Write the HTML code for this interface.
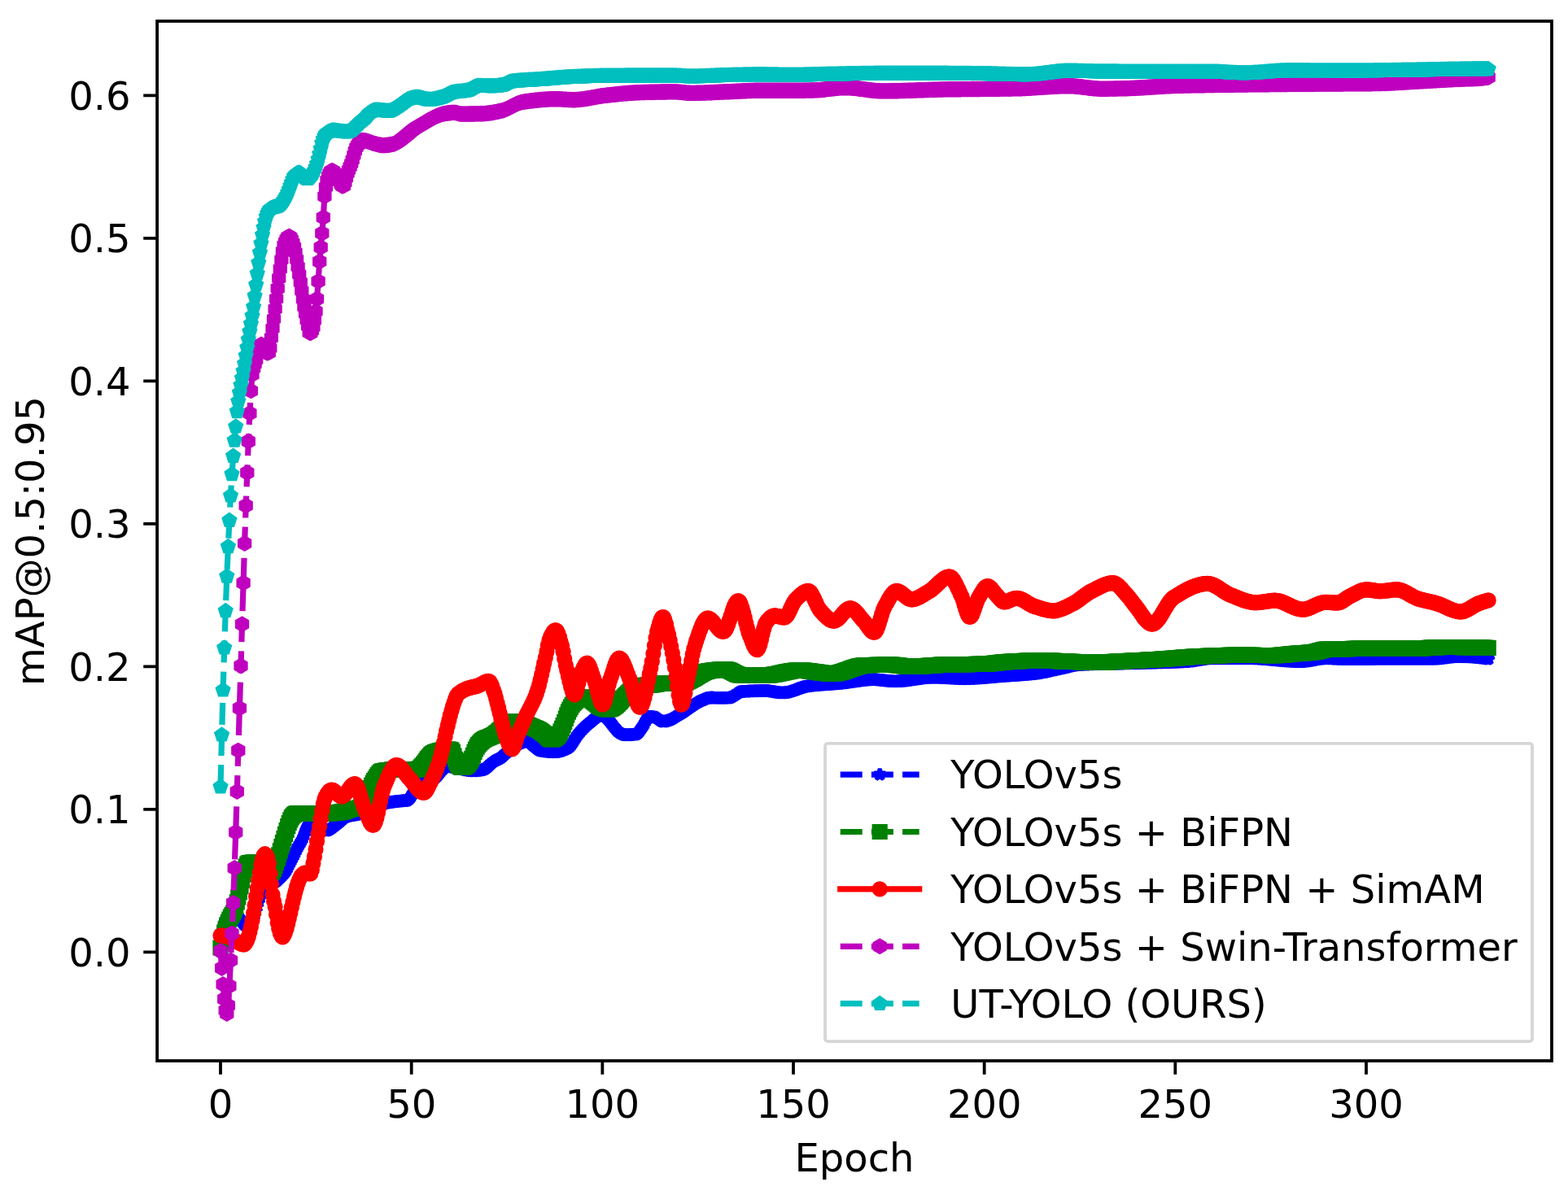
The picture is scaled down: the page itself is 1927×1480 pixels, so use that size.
<!DOCTYPE html><html><head><meta charset="utf-8"><title>mAP@0.5:0.95 vs Epoch</title>
<style>html,body{margin:0;padding:0;background:#fff;}svg{display:block;}text{font-family:'DejaVu Sans', 'Liberation Sans', sans-serif;fill:#000;}</style></head><body>
<svg width="1927" height="1480" viewBox="0 0 1927 1480">
<defs>
<marker id="mb" markerUnits="userSpaceOnUse" markerWidth="40" markerHeight="40" viewBox="-20 -20 40 40" refX="0" refY="0" orient="0" overflow="visible"><path d="M0.00,-7.20 L-1.62,-2.22 L-6.85,-2.22 L-2.62,0.85 L-4.23,5.82 L-0.00,2.75 L4.23,5.82 L2.62,0.85 L6.85,-2.22 L1.62,-2.22Z" fill="#0000ff" stroke="#0000ff" stroke-width="4.8" stroke-linejoin="bevel"/></marker>
<marker id="mg" markerUnits="userSpaceOnUse" markerWidth="40" markerHeight="40" viewBox="-20 -20 40 40" refX="0" refY="0" orient="0" overflow="visible"><path d="M-7.20,-7.20 H7.20 V7.20 H-7.20 Z" fill="#008000" stroke="#008000" stroke-width="4.8" stroke-linejoin="miter"/></marker>
<marker id="mr" markerUnits="userSpaceOnUse" markerWidth="40" markerHeight="40" viewBox="-20 -20 40 40" refX="0" refY="0" orient="0" overflow="visible"><circle r="9.60" fill="#ff0000"/></marker>
<marker id="mm" markerUnits="userSpaceOnUse" markerWidth="40" markerHeight="40" viewBox="-20 -20 40 40" refX="0" refY="0" orient="0" overflow="visible"><path d="M0.00,-7.20 L-6.24,-3.60 L-6.24,3.60 L-0.00,7.20 L6.24,3.60 L6.24,-3.60Z" fill="#bf00bf" stroke="#bf00bf" stroke-width="4.8" stroke-linejoin="miter"/></marker>
<marker id="mc" markerUnits="userSpaceOnUse" markerWidth="40" markerHeight="40" viewBox="-20 -20 40 40" refX="0" refY="0" orient="0" overflow="visible"><path d="M0.00,-7.20 L-6.85,-2.22 L-4.23,5.82 L4.23,5.82 L6.85,-2.22Z" fill="#00bfbf" stroke="#00bfbf" stroke-width="4.8" stroke-linejoin="miter"/></marker>
<clipPath id="ax"><rect x="193.1" y="26.0" width="1713.9" height="1278.0"/></clipPath>
</defs>
<rect x="0" y="0" width="1927" height="1480" fill="#fff"/>
<g clip-path="url(#ax)">
<polyline points="271.0,1170.0 272.6,1153.4 274.1,1143.1 275.7,1136.1 277.2,1131.5 278.8,1128.0 280.4,1125.5 281.9,1123.3 283.5,1121.7 285.0,1121.0 286.6,1121.5 288.2,1122.5 289.7,1123.8 291.3,1125.2 292.8,1127.0 294.4,1129.0 296.0,1130.9 297.5,1133.0 299.1,1135.2 300.6,1137.1 302.2,1138.1 303.8,1138.5 305.3,1138.9 306.9,1139.0 308.4,1137.6 310.0,1133.8 311.6,1129.2 313.1,1124.7 314.7,1119.4 316.2,1113.8 317.8,1108.6 319.4,1104.0 320.9,1099.5 322.5,1095.9 324.0,1093.6 325.6,1091.7 327.2,1090.1 328.7,1088.9 330.3,1087.8 331.8,1087.1 333.4,1086.5 335.0,1086.0 336.5,1085.3 338.1,1084.3 339.6,1083.1 341.2,1081.7 342.7,1080.2 344.3,1078.8 345.9,1077.2 347.4,1075.5 349.0,1073.8 350.5,1072.0 352.1,1069.8 353.7,1066.9 355.2,1063.6 356.8,1060.5 358.3,1057.5 359.9,1054.5 361.5,1051.3 363.0,1048.1 364.6,1044.8 366.1,1041.7 367.7,1038.9 369.3,1036.2 370.8,1033.5 372.4,1030.5 373.9,1026.7 375.5,1022.2 377.1,1018.3 378.6,1015.3 380.2,1012.6 381.7,1010.6 383.3,1010.0 384.9,1010.3 386.4,1010.8 388.0,1011.6 389.5,1012.5 391.1,1013.5 392.7,1014.5 394.2,1016.0 395.8,1017.8 397.3,1019.5 398.9,1020.7 400.5,1021.0 402.0,1020.7 403.6,1020.2 405.1,1019.4 406.7,1018.4 408.3,1017.2 409.8,1016.0 411.4,1014.8 412.9,1013.5 414.5,1012.4 416.1,1011.2 417.6,1009.8 419.2,1008.3 420.7,1006.9 422.3,1005.5 423.9,1004.5 425.4,1003.9 427.0,1003.4 428.5,1003.1 430.1,1002.8 431.7,1002.5 433.2,1002.3 434.8,1002.0 436.3,1001.8 437.9,1001.5 439.5,1001.1 441.0,1000.7 442.6,1000.2 444.1,999.6 445.7,998.9 447.3,998.1 448.8,997.4 450.4,996.6 451.9,995.8 453.5,995.0 455.1,994.2 456.6,993.4 458.2,992.7 459.7,992.1 461.3,991.5 462.9,990.9 464.4,990.3 466.0,989.7 467.5,989.1 469.1,988.6 470.6,988.1 472.2,987.6 473.8,987.3 475.3,986.9 476.9,986.7 478.4,986.4 480.0,986.2 481.6,986.0 483.1,985.8 484.7,985.6 486.2,985.4 487.8,985.2 489.4,985.1 490.9,984.9 492.5,984.8 494.0,984.6 495.6,984.5 497.2,984.4 498.7,984.2 500.3,983.9 501.8,983.1 503.4,981.5 505.0,979.5 506.5,977.0 508.1,974.4 509.6,971.8 511.2,969.3 512.8,967.2 514.3,965.5 515.9,964.4 517.4,963.6 519.0,962.8 520.6,962.2 522.1,961.6 523.7,961.0 525.2,960.5 526.8,960.0 528.4,959.4 529.9,958.8 531.5,958.1 533.0,957.3 534.6,956.2 536.2,954.8 537.7,953.1 539.3,951.2 540.8,949.2 542.4,947.3 544.0,945.6 545.5,944.1 547.1,942.9 548.6,942.3 550.2,942.2 551.8,942.3 553.3,942.5 554.9,942.8 556.4,943.1 558.0,943.4 559.6,943.8 561.1,944.2 562.7,944.5 564.2,944.9 565.8,945.1 567.4,945.4 568.9,945.8 570.5,946.1 572.0,946.5 573.6,946.8 575.2,947.1 576.7,947.3 578.3,947.5 579.8,947.6 581.4,947.7 583.0,947.7 584.5,947.6 586.1,947.4 587.6,947.2 589.2,947.0 590.8,946.7 592.3,946.4 593.9,946.0 595.4,945.5 597.0,944.5 598.5,943.2 600.1,941.7 601.7,940.2 603.2,938.7 604.8,937.3 606.3,936.1 607.9,935.3 609.5,934.5 611.0,933.8 612.6,933.1 614.1,932.2 615.7,931.2 617.3,929.9 618.8,928.4 620.4,926.9 621.9,925.5 623.5,924.2 625.1,922.9 626.6,921.6 628.2,920.3 629.7,919.0 631.3,917.9 632.9,916.8 634.4,915.8 636.0,915.0 637.5,914.3 639.1,913.6 640.7,912.9 642.2,912.2 643.8,911.7 645.3,911.3 646.9,911.1 648.5,911.0 650.0,911.7 651.6,912.9 653.1,914.4 654.7,915.9 656.3,917.2 657.8,918.4 659.4,919.7 660.9,920.9 662.5,922.0 664.1,922.7 665.6,923.0 667.2,923.3 668.7,923.5 670.3,923.7 671.9,923.9 673.4,924.1 675.0,924.2 676.5,924.4 678.1,924.4 679.7,924.5 681.2,924.5 682.8,924.4 684.3,924.3 685.9,924.0 687.5,923.6 689.0,923.2 690.6,922.7 692.1,922.1 693.7,921.4 695.3,920.7 696.8,920.0 698.4,919.2 699.9,917.9 701.5,916.2 703.1,914.1 704.6,911.8 706.2,909.3 707.7,906.8 709.3,904.4 710.9,902.2 712.4,900.3 714.0,898.5 715.5,896.9 717.1,895.2 718.7,893.6 720.2,892.1 721.8,890.7 723.3,889.3 724.9,888.1 726.4,886.8 728.0,885.5 729.6,884.2 731.1,882.9 732.7,881.7 734.2,880.6 735.8,879.7 737.4,879.1 738.9,878.7 740.5,878.6 742.0,879.3 743.6,880.6 745.2,882.1 746.7,883.7 748.3,885.4 749.8,887.3 751.4,889.4 753.0,891.5 754.5,893.5 756.1,895.2 757.6,897.1 759.2,898.8 760.8,900.2 762.3,901.2 763.9,902.0 765.4,902.7 767.0,903.2 768.6,903.5 770.1,903.5 771.7,903.5 773.2,903.4 774.8,903.3 776.4,903.2 777.9,903.1 779.5,902.9 781.0,902.8 782.6,902.3 784.2,901.0 785.7,899.1 787.3,896.9 788.8,894.6 790.4,892.4 792.0,889.8 793.5,886.7 795.1,883.9 796.6,881.8 798.2,881.0 799.8,881.1 801.3,881.2 802.9,881.4 804.4,881.7 806.0,882.0 807.6,882.6 809.1,883.7 810.7,884.9 812.2,886.0 813.8,886.7 815.4,886.9 816.9,886.7 818.5,886.4 820.0,886.0 821.6,885.5 823.2,884.9 824.7,884.3 826.3,883.4 827.8,882.5 829.4,881.5 831.0,880.5 832.5,879.5 834.1,878.6 835.6,877.7 837.2,876.8 838.8,875.8 840.3,874.8 841.9,873.7 843.4,872.6 845.0,871.5 846.6,870.4 848.1,869.3 849.7,868.3 851.2,867.2 852.8,866.2 854.4,865.1 855.9,864.1 857.5,863.2 859.0,862.4 860.6,861.7 862.1,861.1 863.7,860.4 865.3,859.7 866.8,859.1 868.4,858.5 869.9,858.1 871.5,857.9 873.1,857.8 874.6,857.8 876.2,857.8 877.7,857.9 879.3,857.9 880.9,857.9 882.4,858.0 884.0,858.0 885.5,858.0 887.1,858.0 888.7,858.0 890.2,858.0 891.8,858.0 893.3,858.0 894.9,858.0 896.5,857.8 898.0,857.3 899.6,856.6 901.1,855.6 902.7,854.6 904.3,853.5 905.8,852.4 907.4,851.5 908.9,850.8 910.5,850.4 912.1,850.2 913.6,850.1 915.2,850.1 916.7,850.0 918.3,849.9 919.9,849.8 921.4,849.7 923.0,849.7 924.5,849.6 926.1,849.6 927.7,849.5 929.2,849.5 930.8,849.4 932.3,849.4 933.9,849.4 935.5,849.3 937.0,849.3 938.6,849.3 940.1,849.3 941.7,849.3 943.3,849.3 944.8,849.5 946.4,849.6 947.9,849.9 949.5,850.1 951.1,850.4 952.6,850.7 954.2,850.9 955.7,851.2 957.3,851.4 958.9,851.6 960.4,851.7 962.0,851.7 963.5,851.6 965.1,851.5 966.7,851.3 968.2,850.9 969.8,850.6 971.3,850.1 972.9,849.6 974.5,849.1 976.0,848.6 977.6,848.0 979.1,847.4 980.7,846.8 982.3,846.3 983.8,845.7 985.4,845.2 986.9,844.8 988.5,844.3 990.0,844.0 991.6,843.7 993.2,843.5 994.7,843.3 996.3,843.1 997.8,842.9 999.4,842.8 1001.0,842.6 1002.5,842.5 1004.1,842.3 1005.6,842.2 1007.2,842.1 1008.8,841.9 1010.3,841.8 1011.9,841.7 1013.4,841.6 1015.0,841.5 1016.6,841.4 1018.1,841.3 1019.7,841.2 1021.2,841.1 1022.8,840.9 1024.4,840.8 1025.9,840.7 1027.5,840.6 1029.0,840.4 1030.6,840.3 1032.2,840.2 1033.7,840.0 1035.3,839.8 1036.8,839.7 1038.4,839.5 1040.0,839.2 1041.5,839.0 1043.1,838.8 1044.6,838.6 1046.2,838.3 1047.8,838.1 1049.3,837.9 1050.9,837.6 1052.4,837.4 1054.0,837.2 1055.6,837.0 1057.1,836.7 1058.7,836.5 1060.2,836.4 1061.8,836.2 1063.4,836.0 1064.9,835.9 1066.5,835.8 1068.0,835.7 1069.6,835.6 1071.2,835.5 1072.7,835.5 1074.3,835.5 1075.8,835.5 1077.4,835.6 1079.0,835.7 1080.5,835.9 1082.1,836.0 1083.6,836.2 1085.2,836.4 1086.8,836.6 1088.3,836.7 1089.9,836.9 1091.4,837.1 1093.0,837.2 1094.6,837.4 1096.1,837.5 1097.7,837.6 1099.2,837.6 1100.8,837.6 1102.4,837.6 1103.9,837.5 1105.5,837.4 1107.0,837.3 1108.6,837.2 1110.2,837.0 1111.7,836.9 1113.3,836.7 1114.8,836.5 1116.4,836.3 1117.9,836.1 1119.5,835.8 1121.1,835.6 1122.6,835.4 1124.2,835.1 1125.7,834.9 1127.3,834.7 1128.9,834.4 1130.4,834.2 1132.0,834.0 1133.5,833.8 1135.1,833.6 1136.7,833.5 1138.2,833.3 1139.8,833.2 1141.3,833.1 1142.9,833.0 1144.5,832.9 1146.0,832.9 1147.6,832.9 1149.1,832.9 1150.7,832.9 1152.3,833.0 1153.8,833.0 1155.4,833.1 1156.9,833.2 1158.5,833.2 1160.1,833.3 1161.6,833.4 1163.2,833.5 1164.7,833.6 1166.3,833.7 1167.9,833.7 1169.4,833.8 1171.0,833.9 1172.5,834.0 1174.1,834.1 1175.7,834.2 1177.2,834.2 1178.8,834.3 1180.3,834.3 1181.9,834.4 1183.5,834.4 1185.0,834.4 1186.6,834.4 1188.1,834.4 1189.7,834.4 1191.3,834.3 1192.8,834.3 1194.4,834.2 1195.9,834.1 1197.5,834.1 1199.1,834.0 1200.6,833.9 1202.2,833.8 1203.7,833.7 1205.3,833.6 1206.9,833.4 1208.4,833.3 1210.0,833.2 1211.5,833.1 1213.1,832.9 1214.7,832.8 1216.2,832.7 1217.8,832.5 1219.3,832.4 1220.9,832.2 1222.5,832.1 1224.0,832.0 1225.6,831.8 1227.1,831.7 1228.7,831.6 1230.3,831.5 1231.8,831.3 1233.4,831.2 1234.9,831.1 1236.5,831.0 1238.1,830.9 1239.6,830.8 1241.2,830.7 1242.7,830.6 1244.3,830.5 1245.8,830.4 1247.4,830.3 1249.0,830.2 1250.5,830.1 1252.1,829.9 1253.6,829.8 1255.2,829.7 1256.8,829.6 1258.3,829.5 1259.9,829.3 1261.4,829.2 1263.0,829.1 1264.6,828.9 1266.1,828.8 1267.7,828.6 1269.2,828.4 1270.8,828.3 1272.4,828.1 1273.9,827.9 1275.5,827.6 1277.0,827.4 1278.6,827.1 1280.2,826.8 1281.7,826.5 1283.3,826.2 1284.8,825.9 1286.4,825.5 1288.0,825.2 1289.5,824.8 1291.1,824.5 1292.6,824.1 1294.2,823.8 1295.8,823.4 1297.3,823.1 1298.9,822.7 1300.4,822.4 1302.0,822.1 1303.6,821.8 1305.1,821.4 1306.7,821.0 1308.2,820.7 1309.8,820.3 1311.4,819.9 1312.9,819.5 1314.5,819.1 1316.0,818.8 1317.6,818.4 1319.2,818.1 1320.7,817.9 1322.3,817.6 1323.8,817.4 1325.4,817.3 1327.0,817.2 1328.5,817.2 1330.1,817.1 1331.6,817.0 1333.2,816.9 1334.8,816.9 1336.3,816.8 1337.9,816.8 1339.4,816.7 1341.0,816.7 1342.6,816.6 1344.1,816.6 1345.7,816.5 1347.2,816.5 1348.8,816.5 1350.4,816.4 1351.9,816.4 1353.5,816.4 1355.0,816.3 1356.6,816.3 1358.2,816.3 1359.7,816.2 1361.3,816.2 1362.8,816.2 1364.4,816.2 1366.0,816.1 1367.5,816.1 1369.1,816.1 1370.6,816.0 1372.2,816.0 1373.8,816.0 1375.3,815.9 1376.9,815.9 1378.4,815.8 1380.0,815.8 1381.5,815.8 1383.1,815.7 1384.7,815.7 1386.2,815.6 1387.8,815.6 1389.3,815.5 1390.9,815.5 1392.5,815.5 1394.0,815.4 1395.6,815.4 1397.1,815.4 1398.7,815.3 1400.3,815.3 1401.8,815.2 1403.4,815.2 1404.9,815.2 1406.5,815.1 1408.1,815.1 1409.6,815.1 1411.2,815.0 1412.7,815.0 1414.3,815.0 1415.9,814.9 1417.4,814.9 1419.0,814.8 1420.5,814.8 1422.1,814.8 1423.7,814.7 1425.2,814.7 1426.8,814.6 1428.3,814.6 1429.9,814.5 1431.5,814.5 1433.0,814.4 1434.6,814.4 1436.1,814.3 1437.7,814.3 1439.3,814.2 1440.8,814.2 1442.4,814.1 1443.9,814.0 1445.5,814.0 1447.1,813.9 1448.6,813.9 1450.2,813.8 1451.7,813.7 1453.3,813.6 1454.9,813.6 1456.4,813.5 1458.0,813.4 1459.5,813.3 1461.1,813.1 1462.7,813.0 1464.2,812.8 1465.8,812.5 1467.3,812.3 1468.9,812.0 1470.5,811.8 1472.0,811.5 1473.6,811.2 1475.1,810.9 1476.7,810.7 1478.3,810.4 1479.8,810.2 1481.4,810.0 1482.9,809.8 1484.5,809.7 1486.1,809.6 1487.6,809.5 1489.2,809.5 1490.7,809.5 1492.3,809.5 1493.9,809.5 1495.4,809.5 1497.0,809.5 1498.5,809.5 1500.1,809.5 1501.7,809.5 1503.2,809.5 1504.8,809.5 1506.3,809.5 1507.9,809.5 1509.4,809.5 1511.0,809.5 1512.6,809.5 1514.1,809.5 1515.7,809.5 1517.2,809.5 1518.8,809.5 1520.4,809.5 1521.9,809.5 1523.5,809.5 1525.0,809.5 1526.6,809.5 1528.2,809.5 1529.7,809.5 1531.3,809.5 1532.8,809.5 1534.4,809.5 1536.0,809.5 1537.5,809.5 1539.1,809.5 1540.6,809.6 1542.2,809.6 1543.8,809.7 1545.3,809.8 1546.9,809.8 1548.4,809.9 1550.0,810.0 1551.6,810.1 1553.1,810.2 1554.7,810.4 1556.2,810.5 1557.8,810.6 1559.4,810.8 1560.9,810.9 1562.5,811.0 1564.0,811.2 1565.6,811.3 1567.2,811.5 1568.7,811.6 1570.3,811.8 1571.8,811.9 1573.4,812.1 1575.0,812.2 1576.5,812.3 1578.1,812.5 1579.6,812.6 1581.2,812.7 1582.8,812.8 1584.3,812.9 1585.9,813.0 1587.4,813.1 1589.0,813.2 1590.6,813.2 1592.1,813.3 1593.7,813.3 1595.2,813.4 1596.8,813.4 1598.4,813.4 1599.9,813.4 1601.5,813.3 1603.0,813.1 1604.6,812.9 1606.2,812.7 1607.7,812.5 1609.3,812.2 1610.8,812.0 1612.4,811.7 1614.0,811.4 1615.5,811.1 1617.1,810.8 1618.6,810.5 1620.2,810.3 1621.8,810.1 1623.3,809.9 1624.9,809.7 1626.4,809.6 1628.0,809.5 1629.6,809.5 1631.1,809.5 1632.7,809.6 1634.2,809.6 1635.8,809.7 1637.3,809.7 1638.9,809.8 1640.5,809.9 1642.0,810.0 1643.6,810.0 1645.1,810.1 1646.7,810.2 1648.3,810.2 1649.8,810.3 1651.4,810.3 1652.9,810.3 1654.5,810.3 1656.1,810.3 1657.6,810.3 1659.2,810.3 1660.7,810.3 1662.3,810.3 1663.9,810.3 1665.4,810.3 1667.0,810.3 1668.5,810.3 1670.1,810.3 1671.7,810.3 1673.2,810.3 1674.8,810.3 1676.3,810.3 1677.9,810.3 1679.5,810.3 1681.0,810.3 1682.6,810.2 1684.1,810.2 1685.7,810.2 1687.3,810.2 1688.8,810.1 1690.4,810.1 1691.9,810.1 1693.5,810.1 1695.1,810.0 1696.6,810.0 1698.2,810.0 1699.7,810.0 1701.3,810.0 1702.9,810.0 1704.4,810.0 1706.0,810.0 1707.5,810.0 1709.1,810.0 1710.7,810.0 1712.2,810.0 1713.8,810.0 1715.3,810.0 1716.9,810.0 1718.5,810.0 1720.0,810.0 1721.6,810.0 1723.1,810.0 1724.7,810.0 1726.3,810.0 1727.8,810.0 1729.4,810.0 1730.9,810.0 1732.5,810.0 1734.1,810.0 1735.6,810.0 1737.2,810.0 1738.7,810.0 1740.3,810.0 1741.9,810.0 1743.4,810.0 1745.0,810.0 1746.5,810.0 1748.1,810.0 1749.7,810.0 1751.2,810.0 1752.8,810.0 1754.3,810.0 1755.9,810.0 1757.5,810.0 1759.0,810.0 1760.6,810.0 1762.1,810.0 1763.7,810.0 1765.2,809.9 1766.8,809.8 1768.4,809.7 1769.9,809.5 1771.5,809.3 1773.0,809.1 1774.6,808.9 1776.2,808.7 1777.7,808.5 1779.3,808.3 1780.8,808.1 1782.4,807.9 1784.0,807.7 1785.5,807.6 1787.1,807.4 1788.6,807.4 1790.2,807.3 1791.8,807.3 1793.3,807.3 1794.9,807.3 1796.4,807.3 1798.0,807.4 1799.6,807.4 1801.1,807.4 1802.7,807.5 1804.2,807.6 1805.8,807.6 1807.4,807.7 1808.9,807.8 1810.5,807.9 1812.0,808.0 1813.6,808.1 1815.2,808.3 1816.7,808.4 1818.3,808.6 1819.8,808.7 1821.4,808.9 1823.0,809.1 1824.5,809.3 1826.1,809.5 1827.6,809.8 1829.2,810.0" fill="none" stroke="#0000ff" stroke-width="7.2" stroke-linejoin="round" stroke-dasharray="27 11.2" marker-start="url(#mb)" marker-mid="url(#mb)" marker-end="url(#mb)"/>
<polyline points="271.0,1165.0 272.6,1158.1 274.1,1151.8 275.7,1146.1 277.2,1141.3 278.8,1137.2 280.4,1133.5 281.9,1130.2 283.5,1127.1 285.0,1124.5 286.6,1122.0 288.2,1119.0 289.7,1114.7 291.3,1108.8 292.8,1102.8 294.4,1096.6 296.0,1089.6 297.5,1082.2 299.1,1075.2 300.6,1069.0 302.2,1065.1 303.8,1062.1 305.3,1060.9 306.9,1060.6 308.4,1060.3 310.0,1060.1 311.6,1060.0 313.1,1060.0 314.7,1060.2 316.2,1060.5 317.8,1061.1 319.4,1061.7 320.9,1062.5 322.5,1063.9 324.0,1065.7 325.6,1067.5 327.2,1069.6 328.7,1072.0 330.3,1073.8 331.8,1073.8 333.4,1072.7 335.0,1071.1 336.5,1068.4 338.1,1064.5 339.6,1060.3 341.2,1055.7 342.7,1050.8 344.3,1045.8 345.9,1040.7 347.4,1035.6 349.0,1030.5 350.5,1025.4 352.1,1020.5 353.7,1015.6 355.2,1011.5 356.8,1007.8 358.3,1004.9 359.9,1003.0 361.5,1001.4 363.0,1000.3 364.6,999.9 366.1,999.8 367.7,999.6 369.3,999.6 370.8,999.5 372.4,999.5 373.9,999.6 375.5,999.7 377.1,999.8 378.6,999.9 380.2,1000.0 381.7,1000.0 383.3,1000.0 384.9,1000.0 386.4,1000.0 388.0,1000.0 389.5,1000.0 391.1,1000.0 392.7,1000.0 394.2,1000.0 395.8,1000.0 397.3,1000.0 398.9,1000.0 400.5,1000.0 402.0,1000.0 403.6,999.9 405.1,999.8 406.7,999.7 408.3,999.6 409.8,999.4 411.4,999.2 412.9,999.0 414.5,998.8 416.1,998.6 417.6,998.4 419.2,998.1 420.7,997.8 422.3,997.3 423.9,996.8 425.4,996.2 427.0,995.7 428.5,995.1 430.1,994.7 431.7,994.4 433.2,994.2 434.8,994.0 436.3,993.9 437.9,993.7 439.5,993.5 441.0,993.3 442.6,992.9 444.1,991.5 445.7,989.0 447.3,985.8 448.8,982.1 450.4,978.5 451.9,975.1 453.5,972.0 455.1,968.7 456.6,965.4 458.2,962.3 459.7,959.7 461.3,957.3 462.9,954.9 464.4,952.7 466.0,950.7 467.5,949.2 469.1,948.2 470.6,947.8 472.2,947.5 473.8,947.2 475.3,946.9 476.9,946.7 478.4,946.5 480.0,946.3 481.6,946.1 483.1,945.9 484.7,945.8 486.2,945.7 487.8,945.6 489.4,945.6 490.9,945.5 492.5,945.5 494.0,945.5 495.6,945.6 497.2,945.7 498.7,945.9 500.3,946.1 501.8,946.3 503.4,946.4 505.0,946.5 506.5,946.5 508.1,946.4 509.6,946.3 511.2,946.0 512.8,945.8 514.3,945.4 515.9,944.5 517.4,942.9 519.0,941.1 520.6,939.4 522.1,937.3 523.7,935.1 525.2,932.9 526.8,931.1 528.4,929.3 529.9,927.6 531.5,926.3 533.0,925.5 534.6,924.7 536.2,924.1 537.7,923.6 539.3,923.2 540.8,922.8 542.4,922.3 544.0,921.9 545.5,921.6 547.1,921.3 548.6,921.1 550.2,921.0 551.8,921.1 553.3,921.5 554.9,922.0 556.4,924.4 558.0,929.2 559.6,933.4 561.1,937.5 562.7,940.2 564.2,941.7 565.8,942.9 567.4,943.5 568.9,943.5 570.5,942.9 572.0,941.9 573.6,940.8 575.2,939.5 576.7,937.5 578.3,935.2 579.8,932.4 581.4,928.4 583.0,924.3 584.5,921.0 586.1,918.2 587.6,915.7 589.2,913.8 590.8,912.2 592.3,910.9 593.9,909.7 595.4,908.7 597.0,907.9 598.5,907.2 600.1,906.6 601.7,906.0 603.2,905.4 604.8,904.6 606.3,903.8 607.9,902.8 609.5,901.6 611.0,900.3 612.6,899.0 614.1,897.6 615.7,896.3 617.3,895.0 618.8,893.8 620.4,892.7 621.9,891.7 623.5,890.5 625.1,889.4 626.6,888.4 628.2,887.6 629.7,887.1 631.3,887.0 632.9,887.1 634.4,887.3 636.0,887.5 637.5,887.9 639.1,888.3 640.7,888.7 642.2,889.2 643.8,889.6 645.3,890.1 646.9,890.6 648.5,891.2 650.0,891.8 651.6,892.5 653.1,893.2 654.7,893.9 656.3,894.5 657.8,895.1 659.4,895.8 660.9,896.5 662.5,897.3 664.1,898.3 665.6,899.5 667.2,900.8 668.7,902.0 670.3,903.2 671.9,904.6 673.4,906.2 675.0,907.6 676.5,908.6 678.1,909.0 679.7,908.7 681.2,908.0 682.8,906.9 684.3,905.6 685.9,904.1 687.5,902.0 689.0,898.9 690.6,895.3 692.1,891.7 693.7,887.6 695.3,883.1 696.8,878.8 698.4,875.2 699.9,872.0 701.5,869.1 703.1,866.5 704.6,864.4 706.2,862.8 707.7,861.3 709.3,859.9 710.9,858.9 712.4,858.2 714.0,857.8 715.5,857.5 717.1,857.3 718.7,857.1 720.2,857.0 721.8,857.1 723.3,857.7 724.9,858.7 726.4,860.0 728.0,861.4 729.6,862.7 731.1,863.8 732.7,865.0 734.2,866.3 735.8,867.5 737.4,868.6 738.9,869.5 740.5,870.2 742.0,870.7 743.6,871.2 745.2,871.7 746.7,871.9 748.3,872.0 749.8,871.7 751.4,871.0 753.0,870.1 754.5,869.0 756.1,867.9 757.6,866.7 759.2,865.2 760.8,863.5 762.3,861.8 763.9,860.1 765.4,858.5 767.0,856.9 768.6,855.3 770.1,853.8 771.7,852.3 773.2,850.8 774.8,849.3 776.4,847.7 777.9,846.2 779.5,844.8 781.0,843.8 782.6,843.1 784.2,842.9 785.7,842.8 787.3,842.6 788.8,842.6 790.4,842.5 792.0,842.4 793.5,842.4 795.1,842.3 796.6,842.2 798.2,842.1 799.8,842.0 801.3,841.9 802.9,841.6 804.4,841.4 806.0,841.1 807.6,840.8 809.1,840.5 810.7,840.3 812.2,840.1 813.8,840.0 815.4,840.0 816.9,839.9 818.5,839.9 820.0,839.9 821.6,839.9 823.2,839.8 824.7,839.8 826.3,839.8 827.8,839.8 829.4,839.8 831.0,839.8 832.5,839.8 834.1,839.7 835.6,839.7 837.2,839.7 838.8,839.6 840.3,839.6 841.9,839.3 843.4,838.8 845.0,838.0 846.6,837.2 848.1,836.3 849.7,835.5 851.2,834.7 852.8,833.9 854.4,833.0 855.9,832.0 857.5,831.0 859.0,830.0 860.6,829.1 862.1,828.2 863.7,827.3 865.3,826.5 866.8,825.9 868.4,825.4 869.9,825.0 871.5,824.7 873.1,824.5 874.6,824.3 876.2,824.0 877.7,823.8 879.3,823.6 880.9,823.5 882.4,823.3 884.0,823.2 885.5,823.1 887.1,823.0 888.7,822.9 890.2,822.9 891.8,822.9 893.3,823.2 894.9,823.6 896.5,824.2 898.0,824.9 899.6,825.7 901.1,826.5 902.7,827.3 904.3,828.1 905.8,828.8 907.4,829.3 908.9,829.8 910.5,830.0 912.1,830.0 913.6,830.0 915.2,830.0 916.7,830.0 918.3,830.0 919.9,830.0 921.4,830.0 923.0,830.0 924.5,830.0 926.1,830.0 927.7,830.0 929.2,830.0 930.8,830.0 932.3,830.0 933.9,830.0 935.5,830.0 937.0,830.0 938.6,830.0 940.1,830.0 941.7,830.0 943.3,830.0 944.8,829.9 946.4,829.8 947.9,829.6 949.5,829.4 951.1,829.2 952.6,828.9 954.2,828.6 955.7,828.3 957.3,828.0 958.9,827.6 960.4,827.3 962.0,826.9 963.5,826.6 965.1,826.2 966.7,825.9 968.2,825.6 969.8,825.3 971.3,825.0 972.9,824.7 974.5,824.5 976.0,824.3 977.6,824.1 979.1,824.0 980.7,823.9 982.3,823.9 983.8,823.9 985.4,824.0 986.9,824.1 988.5,824.2 990.0,824.3 991.6,824.5 993.2,824.6 994.7,824.8 996.3,825.0 997.8,825.3 999.4,825.5 1001.0,825.7 1002.5,826.0 1004.1,826.2 1005.6,826.4 1007.2,826.7 1008.8,826.9 1010.3,827.1 1011.9,827.3 1013.4,827.5 1015.0,827.6 1016.6,827.7 1018.1,827.9 1019.7,827.9 1021.2,828.0 1022.8,828.0 1024.4,828.0 1025.9,827.8 1027.5,827.6 1029.0,827.4 1030.6,827.0 1032.2,826.7 1033.7,826.2 1035.3,825.8 1036.8,825.3 1038.4,824.7 1040.0,824.2 1041.5,823.6 1043.1,823.0 1044.6,822.5 1046.2,821.9 1047.8,821.3 1049.3,820.8 1050.9,820.3 1052.4,819.8 1054.0,819.4 1055.6,818.9 1057.1,818.6 1058.7,818.3 1060.2,818.1 1061.8,817.9 1063.4,817.8 1064.9,817.7 1066.5,817.7 1068.0,817.6 1069.6,817.6 1071.2,817.5 1072.7,817.5 1074.3,817.5 1075.8,817.4 1077.4,817.4 1079.0,817.4 1080.5,817.3 1082.1,817.3 1083.6,817.3 1085.2,817.3 1086.8,817.2 1088.3,817.2 1089.9,817.2 1091.4,817.2 1093.0,817.2 1094.6,817.2 1096.1,817.2 1097.7,817.3 1099.2,817.4 1100.8,817.6 1102.4,817.7 1103.9,817.9 1105.5,818.1 1107.0,818.3 1108.6,818.5 1110.2,818.6 1111.7,818.8 1113.3,819.0 1114.8,819.1 1116.4,819.2 1117.9,819.3 1119.5,819.3 1121.1,819.3 1122.6,819.3 1124.2,819.2 1125.7,819.2 1127.3,819.1 1128.9,819.1 1130.4,819.0 1132.0,818.9 1133.5,818.8 1135.1,818.7 1136.7,818.6 1138.2,818.5 1139.8,818.4 1141.3,818.3 1142.9,818.2 1144.5,818.0 1146.0,817.9 1147.6,817.8 1149.1,817.7 1150.7,817.6 1152.3,817.5 1153.8,817.4 1155.4,817.3 1156.9,817.2 1158.5,817.1 1160.1,817.1 1161.6,817.0 1163.2,817.0 1164.7,816.9 1166.3,816.9 1167.9,816.9 1169.4,816.8 1171.0,816.8 1172.5,816.8 1174.1,816.8 1175.7,816.7 1177.2,816.7 1178.8,816.7 1180.3,816.7 1181.9,816.7 1183.5,816.6 1185.0,816.6 1186.6,816.6 1188.1,816.6 1189.7,816.6 1191.3,816.6 1192.8,816.5 1194.4,816.5 1195.9,816.5 1197.5,816.5 1199.1,816.4 1200.6,816.4 1202.2,816.4 1203.7,816.3 1205.3,816.3 1206.9,816.3 1208.4,816.2 1210.0,816.2 1211.5,816.1 1213.1,816.0 1214.7,815.9 1216.2,815.8 1217.8,815.6 1219.3,815.5 1220.9,815.3 1222.5,815.1 1224.0,815.0 1225.6,814.8 1227.1,814.6 1228.7,814.4 1230.3,814.3 1231.8,814.1 1233.4,813.9 1234.9,813.8 1236.5,813.6 1238.1,813.5 1239.6,813.4 1241.2,813.3 1242.7,813.3 1244.3,813.2 1245.8,813.1 1247.4,813.0 1249.0,812.9 1250.5,812.8 1252.1,812.7 1253.6,812.7 1255.2,812.6 1256.8,812.5 1258.3,812.4 1259.9,812.4 1261.4,812.3 1263.0,812.2 1264.6,812.2 1266.1,812.1 1267.7,812.1 1269.2,812.0 1270.8,812.0 1272.4,812.0 1273.9,811.9 1275.5,811.9 1277.0,811.9 1278.6,811.9 1280.2,811.9 1281.7,811.9 1283.3,811.9 1284.8,812.0 1286.4,812.0 1288.0,812.1 1289.5,812.1 1291.1,812.2 1292.6,812.2 1294.2,812.3 1295.8,812.4 1297.3,812.4 1298.9,812.5 1300.4,812.6 1302.0,812.7 1303.6,812.8 1305.1,812.8 1306.7,812.9 1308.2,813.0 1309.8,813.1 1311.4,813.1 1312.9,813.2 1314.5,813.3 1316.0,813.3 1317.6,813.4 1319.2,813.4 1320.7,813.5 1322.3,813.5 1323.8,813.6 1325.4,813.6 1327.0,813.7 1328.5,813.8 1330.1,813.8 1331.6,813.9 1333.2,813.9 1334.8,814.0 1336.3,814.0 1337.9,814.0 1339.4,814.1 1341.0,814.1 1342.6,814.1 1344.1,814.2 1345.7,814.2 1347.2,814.2 1348.8,814.2 1350.4,814.2 1351.9,814.2 1353.5,814.2 1355.0,814.1 1356.6,814.1 1358.2,814.0 1359.7,813.9 1361.3,813.9 1362.8,813.8 1364.4,813.7 1366.0,813.6 1367.5,813.5 1369.1,813.4 1370.6,813.3 1372.2,813.2 1373.8,813.2 1375.3,813.1 1376.9,813.0 1378.4,812.9 1380.0,812.8 1381.5,812.7 1383.1,812.7 1384.7,812.6 1386.2,812.5 1387.8,812.4 1389.3,812.3 1390.9,812.3 1392.5,812.2 1394.0,812.1 1395.6,812.0 1397.1,812.0 1398.7,811.9 1400.3,811.8 1401.8,811.7 1403.4,811.6 1404.9,811.5 1406.5,811.5 1408.1,811.4 1409.6,811.3 1411.2,811.2 1412.7,811.1 1414.3,811.0 1415.9,810.9 1417.4,810.9 1419.0,810.8 1420.5,810.7 1422.1,810.6 1423.7,810.5 1425.2,810.4 1426.8,810.3 1428.3,810.2 1429.9,810.1 1431.5,810.0 1433.0,809.9 1434.6,809.8 1436.1,809.6 1437.7,809.5 1439.3,809.4 1440.8,809.3 1442.4,809.1 1443.9,809.0 1445.5,808.9 1447.1,808.8 1448.6,808.6 1450.2,808.5 1451.7,808.4 1453.3,808.2 1454.9,808.1 1456.4,808.0 1458.0,807.9 1459.5,807.8 1461.1,807.6 1462.7,807.5 1464.2,807.4 1465.8,807.3 1467.3,807.2 1468.9,807.1 1470.5,807.0 1472.0,807.0 1473.6,806.9 1475.1,806.8 1476.7,806.7 1478.3,806.7 1479.8,806.6 1481.4,806.5 1482.9,806.4 1484.5,806.4 1486.1,806.3 1487.6,806.2 1489.2,806.2 1490.7,806.1 1492.3,806.0 1493.9,805.9 1495.4,805.9 1497.0,805.8 1498.5,805.8 1500.1,805.7 1501.7,805.6 1503.2,805.6 1504.8,805.5 1506.3,805.5 1507.9,805.5 1509.4,805.4 1511.0,805.4 1512.6,805.4 1514.1,805.3 1515.7,805.3 1517.2,805.3 1518.8,805.3 1520.4,805.3 1521.9,805.3 1523.5,805.3 1525.0,805.3 1526.6,805.3 1528.2,805.3 1529.7,805.3 1531.3,805.3 1532.8,805.4 1534.4,805.4 1536.0,805.4 1537.5,805.4 1539.1,805.4 1540.6,805.4 1542.2,805.4 1543.8,805.5 1545.3,805.5 1546.9,805.5 1548.4,805.5 1550.0,805.5 1551.6,805.5 1553.1,805.5 1554.7,805.5 1556.2,805.6 1557.8,805.6 1559.4,805.6 1560.9,805.6 1562.5,805.6 1564.0,805.6 1565.6,805.6 1567.2,805.6 1568.7,805.6 1570.3,805.5 1571.8,805.4 1573.4,805.3 1575.0,805.2 1576.5,805.1 1578.1,804.9 1579.6,804.8 1581.2,804.6 1582.8,804.4 1584.3,804.2 1585.9,804.1 1587.4,803.9 1589.0,803.7 1590.6,803.6 1592.1,803.4 1593.7,803.3 1595.2,803.2 1596.8,803.1 1598.4,802.9 1599.9,802.9 1601.5,802.8 1603.0,802.7 1604.6,802.6 1606.2,802.4 1607.7,802.3 1609.3,802.2 1610.8,802.1 1612.4,801.9 1614.0,801.7 1615.5,801.5 1617.1,801.2 1618.6,800.8 1620.2,800.3 1621.8,799.9 1623.3,799.5 1624.9,799.1 1626.4,798.7 1628.0,798.4 1629.6,798.2 1631.1,798.1 1632.7,798.0 1634.2,798.0 1635.8,797.9 1637.3,797.9 1638.9,797.9 1640.5,797.8 1642.0,797.8 1643.6,797.8 1645.1,797.7 1646.7,797.7 1648.3,797.7 1649.8,797.7 1651.4,797.7 1652.9,797.6 1654.5,797.6 1656.1,797.6 1657.6,797.6 1659.2,797.5 1660.7,797.5 1662.3,797.4 1663.9,797.4 1665.4,797.4 1667.0,797.3 1668.5,797.2 1670.1,797.2 1671.7,797.1 1673.2,797.1 1674.8,797.0 1676.3,797.0 1677.9,796.9 1679.5,796.9 1681.0,796.9 1682.6,796.8 1684.1,796.8 1685.7,796.8 1687.3,796.8 1688.8,796.8 1690.4,796.8 1691.9,796.8 1693.5,796.8 1695.1,796.8 1696.6,796.8 1698.2,796.8 1699.7,796.8 1701.3,796.8 1702.9,796.8 1704.4,796.9 1706.0,796.9 1707.5,796.9 1709.1,796.9 1710.7,796.9 1712.2,796.9 1713.8,796.9 1715.3,796.9 1716.9,796.9 1718.5,796.9 1720.0,796.9 1721.6,796.9 1723.1,797.0 1724.7,797.0 1726.3,797.0 1727.8,797.0 1729.4,797.0 1730.9,797.0 1732.5,797.0 1734.1,797.0 1735.6,797.0 1737.2,797.0 1738.7,797.0 1740.3,797.0 1741.9,797.0 1743.4,797.0 1745.0,796.9 1746.5,796.9 1748.1,796.8 1749.7,796.7 1751.2,796.6 1752.8,796.5 1754.3,796.5 1755.9,796.4 1757.5,796.3 1759.0,796.2 1760.6,796.1 1762.1,796.0 1763.7,795.9 1765.2,795.8 1766.8,795.7 1768.4,795.6 1769.9,795.6 1771.5,795.5 1773.0,795.5 1774.6,795.5 1776.2,795.5 1777.7,795.5 1779.3,795.5 1780.8,795.5 1782.4,795.5 1784.0,795.5 1785.5,795.5 1787.1,795.5 1788.6,795.5 1790.2,795.5 1791.8,795.5 1793.3,795.5 1794.9,795.5 1796.4,795.6 1798.0,795.6 1799.6,795.6 1801.1,795.6 1802.7,795.6 1804.2,795.7 1805.8,795.7 1807.4,795.7 1808.9,795.7 1810.5,795.8 1812.0,795.8 1813.6,795.9 1815.2,795.9 1816.7,796.0 1818.3,796.0 1819.8,796.1 1821.4,796.1 1823.0,796.2 1824.5,796.3 1826.1,796.3 1827.6,796.4 1829.2,796.5" fill="none" stroke="#008000" stroke-width="7.2" stroke-linejoin="round" stroke-dasharray="27 11.2" marker-start="url(#mg)" marker-mid="url(#mg)" marker-end="url(#mg)"/>
<polyline points="271.0,1150.0 272.6,1150.0 274.1,1150.1 275.7,1150.3 277.2,1150.5 278.8,1150.8 280.4,1151.1 281.9,1151.7 283.5,1152.6 285.0,1153.7 286.6,1154.8 288.2,1155.9 289.7,1156.9 291.3,1157.6 292.8,1158.5 294.4,1159.3 296.0,1160.0 297.5,1160.6 299.1,1160.9 300.6,1160.8 302.2,1158.7 303.8,1155.5 305.3,1151.4 306.9,1145.7 308.4,1139.1 310.0,1131.4 311.6,1122.6 313.1,1112.9 314.7,1102.2 316.2,1092.1 317.8,1082.4 319.4,1072.4 320.9,1062.7 322.5,1056.4 324.0,1051.5 325.6,1049.7 327.2,1051.2 328.7,1054.3 330.3,1061.5 331.8,1073.7 333.4,1087.0 335.0,1099.7 336.5,1107.7 338.1,1114.7 339.6,1124.3 341.2,1134.0 342.7,1141.5 344.3,1146.9 345.9,1150.8 347.4,1151.9 349.0,1149.7 350.5,1146.1 352.1,1141.7 353.7,1135.6 355.2,1129.1 356.8,1122.3 358.3,1115.5 359.9,1108.7 361.5,1102.1 363.0,1096.1 364.6,1090.4 366.1,1085.6 367.7,1081.5 369.3,1078.1 370.8,1076.0 372.4,1074.4 373.9,1073.2 375.5,1073.0 377.1,1073.2 378.6,1073.6 380.2,1073.9 381.7,1073.9 383.3,1069.4 384.9,1061.1 386.4,1052.9 388.0,1044.0 389.5,1034.2 391.1,1024.7 392.7,1015.7 394.2,1006.0 395.8,996.5 397.3,988.1 398.9,982.0 400.5,978.6 402.0,975.9 403.6,973.7 405.1,972.0 406.7,971.1 408.3,971.1 409.8,971.7 411.4,972.9 412.9,974.3 414.5,975.8 416.1,977.2 417.6,978.3 419.2,978.9 420.7,978.9 422.3,978.1 423.9,976.7 425.4,974.8 427.0,972.7 428.5,970.5 430.1,968.3 431.7,966.4 433.2,964.8 434.8,963.8 436.3,963.5 437.9,964.8 439.5,967.8 441.0,972.0 442.6,977.0 444.1,982.3 445.7,987.5 447.3,992.2 448.8,995.9 450.4,999.7 451.9,1003.8 453.5,1007.6 455.1,1010.9 456.6,1013.3 458.2,1014.5 459.7,1013.7 461.3,1010.5 462.9,1005.5 464.4,999.2 466.0,992.1 467.5,984.8 469.1,977.6 470.6,971.3 472.2,966.3 473.8,962.6 475.3,958.9 476.9,955.3 478.4,951.8 480.0,948.5 481.6,945.7 483.1,943.4 484.7,941.6 486.2,940.7 487.8,940.5 489.4,941.1 490.9,942.1 492.5,943.6 494.0,945.3 495.6,947.3 497.2,949.5 498.7,951.6 500.3,953.7 501.8,955.6 503.4,957.3 505.0,959.1 506.5,961.0 508.1,963.0 509.6,965.0 511.2,967.1 512.8,969.0 514.3,970.7 515.9,972.2 517.4,973.4 519.0,974.2 520.6,974.5 522.1,974.0 523.7,972.3 525.2,969.7 526.8,966.6 528.4,963.3 529.9,960.2 531.5,957.1 533.0,953.8 534.6,950.3 536.2,946.5 537.7,942.3 539.3,937.8 540.8,932.5 542.4,926.3 544.0,919.5 545.5,912.8 547.1,905.7 548.6,898.6 550.2,891.9 551.8,885.5 553.3,879.4 554.9,873.7 556.4,868.6 558.0,863.7 559.6,859.2 561.1,855.5 562.7,853.4 564.2,852.0 565.8,850.8 567.4,849.7 568.9,848.8 570.5,848.0 572.0,847.3 573.6,846.7 575.2,846.2 576.7,845.6 578.3,845.2 579.8,844.8 581.4,844.4 583.0,844.1 584.5,843.8 586.1,843.4 587.6,842.8 589.2,842.2 590.8,841.4 592.3,840.5 593.9,839.7 595.4,838.9 597.0,838.2 598.5,837.7 600.1,837.4 601.7,837.8 603.2,840.2 604.8,843.9 606.3,848.2 607.9,852.6 609.5,858.1 611.0,864.2 612.6,870.4 614.1,876.5 615.7,883.0 617.3,889.6 618.8,895.8 620.4,901.2 621.9,905.7 623.5,910.4 625.1,914.8 626.6,918.3 628.2,920.5 629.7,920.8 631.3,918.6 632.9,914.5 634.4,909.6 636.0,904.7 637.5,900.7 639.1,897.0 640.7,893.2 642.2,889.5 643.8,885.9 645.3,882.3 646.9,878.9 648.5,875.8 650.0,872.8 651.6,869.8 653.1,866.8 654.7,863.6 656.3,860.3 657.8,856.5 659.4,852.4 660.9,847.6 662.5,842.0 664.1,835.7 665.6,829.0 667.2,822.1 668.7,815.3 670.3,808.6 671.9,800.9 673.4,793.2 675.0,786.8 676.5,782.9 678.1,779.8 679.7,777.1 681.2,775.3 682.8,774.5 684.3,775.6 685.9,778.8 687.5,783.4 689.0,788.7 690.6,794.1 692.1,801.3 693.7,809.7 695.3,817.7 696.8,824.3 698.4,831.0 699.9,837.7 701.5,844.0 703.1,849.1 704.6,852.7 706.2,854.0 707.7,851.9 709.3,846.7 710.9,839.8 712.4,833.1 714.0,828.1 715.5,824.4 717.1,820.7 718.7,817.7 720.2,815.6 721.8,815.2 723.3,816.8 724.9,820.1 726.4,824.5 728.0,829.3 729.6,833.9 731.1,838.3 732.7,843.8 734.2,849.8 735.8,855.7 737.4,860.8 738.9,864.5 740.5,866.2 742.0,864.9 743.6,860.7 745.2,854.6 746.7,847.7 748.3,841.0 749.8,835.4 751.4,830.9 753.0,825.9 754.5,821.0 756.1,816.5 757.6,812.8 759.2,810.2 760.8,809.0 762.3,809.5 763.9,811.1 765.4,813.7 767.0,817.0 768.6,820.9 770.1,825.0 771.7,829.2 773.2,833.2 774.8,837.0 776.4,841.8 777.9,847.3 779.5,853.1 781.0,858.6 782.6,863.5 784.2,867.2 785.7,869.2 787.3,869.2 788.8,867.1 790.4,863.1 792.0,857.7 793.5,851.2 795.1,843.9 796.6,836.2 798.2,828.5 799.8,821.1 801.3,813.2 802.9,803.6 804.4,793.6 806.0,784.2 807.6,776.6 809.1,771.1 810.7,765.8 812.2,761.5 813.8,758.8 815.4,758.7 816.9,762.0 818.5,767.6 820.0,774.1 821.6,780.3 823.2,787.1 824.7,794.7 826.3,802.7 827.8,810.9 829.4,820.4 831.0,831.8 832.5,843.7 834.1,854.5 835.6,862.6 837.2,866.4 838.8,865.0 840.3,859.9 841.9,852.3 843.4,843.5 845.0,834.9 846.6,827.5 848.1,820.0 849.7,812.1 851.2,804.5 852.8,797.6 854.4,792.0 855.9,787.3 857.5,782.7 859.0,778.2 860.6,773.9 862.1,770.0 863.7,766.5 865.3,763.7 866.8,761.6 868.4,760.3 869.9,759.9 871.5,760.3 873.1,761.3 874.6,762.6 876.2,764.3 877.7,766.2 879.3,768.2 880.9,770.2 882.4,772.1 884.0,773.8 885.5,775.2 887.1,776.1 888.7,776.5 890.2,775.9 891.8,774.0 893.3,770.9 894.9,766.9 896.5,762.4 898.0,757.6 899.6,752.8 901.1,748.3 902.7,744.3 904.3,741.2 905.8,739.2 907.4,738.6 908.9,739.9 910.5,743.1 912.1,747.7 913.6,753.3 915.2,759.4 916.7,765.8 918.3,771.8 919.9,777.2 921.4,781.4 923.0,785.3 924.5,789.3 926.1,793.1 927.7,796.2 929.2,798.2 930.8,798.7 932.3,796.7 933.9,792.2 935.5,786.2 937.0,779.6 938.6,773.3 940.1,768.1 941.7,765.0 943.3,763.0 944.8,761.2 946.4,759.6 947.9,758.3 949.5,757.4 951.1,756.9 952.6,756.8 954.2,757.0 955.7,757.4 957.3,757.8 958.9,758.2 960.4,758.6 962.0,758.9 963.5,759.1 965.1,758.7 966.7,757.3 968.2,755.1 969.8,752.2 971.3,748.9 972.9,745.6 974.5,742.4 976.0,739.6 977.6,737.4 979.1,735.8 980.7,734.3 982.3,732.8 983.8,731.4 985.4,730.0 986.9,728.9 988.5,727.9 990.0,727.1 991.6,726.6 993.2,726.4 994.7,726.9 996.3,728.4 997.8,730.7 999.4,733.6 1001.0,736.9 1002.5,740.3 1004.1,743.7 1005.6,746.8 1007.2,749.4 1008.8,751.3 1010.3,752.9 1011.9,754.6 1013.4,756.2 1015.0,757.8 1016.6,759.2 1018.1,760.5 1019.7,761.6 1021.2,762.5 1022.8,763.0 1024.4,763.3 1025.9,763.1 1027.5,762.5 1029.0,761.5 1030.6,760.1 1032.2,758.5 1033.7,756.8 1035.3,755.0 1036.8,753.2 1038.4,751.6 1040.0,750.1 1041.5,748.9 1043.1,748.1 1044.6,747.7 1046.2,747.9 1047.8,748.5 1049.3,749.5 1050.9,750.9 1052.4,752.6 1054.0,754.4 1055.6,756.4 1057.1,758.3 1058.7,760.3 1060.2,762.1 1061.8,763.7 1063.4,765.7 1064.9,767.8 1066.5,770.1 1068.0,772.3 1069.6,774.3 1071.2,775.9 1072.7,777.0 1074.3,777.5 1075.8,776.7 1077.4,774.1 1079.0,770.3 1080.5,765.6 1082.1,760.5 1083.6,755.3 1085.2,750.5 1086.8,746.6 1088.3,743.7 1089.9,740.9 1091.4,738.1 1093.0,735.4 1094.6,732.8 1096.1,730.6 1097.7,728.7 1099.2,727.3 1100.8,726.6 1102.4,726.4 1103.9,726.8 1105.5,727.5 1107.0,728.4 1108.6,729.6 1110.2,730.9 1111.7,732.2 1113.3,733.5 1114.8,734.7 1116.4,735.6 1117.9,736.4 1119.5,736.8 1121.1,736.8 1122.6,736.6 1124.2,736.2 1125.7,735.8 1127.3,735.2 1128.9,734.4 1130.4,733.6 1132.0,732.8 1133.5,731.9 1135.1,730.9 1136.7,729.9 1138.2,729.0 1139.8,728.0 1141.3,727.1 1142.9,726.2 1144.5,725.1 1146.0,723.9 1147.6,722.5 1149.1,721.1 1150.7,719.6 1152.3,718.1 1153.8,716.6 1155.4,715.1 1156.9,713.8 1158.5,712.5 1160.1,711.3 1161.6,710.4 1163.2,709.6 1164.7,709.1 1166.3,708.8 1167.9,709.0 1169.4,710.0 1171.0,711.7 1172.5,714.1 1174.1,716.9 1175.7,720.1 1177.2,723.4 1178.8,726.8 1180.3,730.1 1181.9,733.4 1183.5,737.8 1185.0,742.9 1186.6,748.1 1188.1,752.8 1189.7,756.4 1191.3,758.4 1192.8,758.2 1194.4,756.1 1195.9,752.7 1197.5,748.3 1199.1,743.7 1200.6,739.3 1202.2,735.6 1203.7,732.9 1205.3,730.2 1206.9,727.5 1208.4,725.0 1210.0,722.9 1211.5,721.4 1213.1,720.6 1214.7,720.7 1216.2,721.5 1217.8,723.0 1219.3,724.9 1220.9,726.9 1222.5,729.0 1224.0,730.8 1225.6,732.4 1227.1,734.2 1228.7,736.1 1230.3,737.8 1231.8,739.2 1233.4,739.8 1234.9,739.8 1236.5,739.6 1238.1,739.1 1239.6,738.5 1241.2,737.8 1242.7,737.1 1244.3,736.5 1245.8,735.9 1247.4,735.5 1249.0,735.3 1250.5,735.4 1252.1,735.6 1253.6,736.1 1255.2,736.7 1256.8,737.4 1258.3,738.3 1259.9,739.2 1261.4,740.2 1263.0,741.1 1264.6,742.1 1266.1,743.0 1267.7,743.9 1269.2,744.6 1270.8,745.2 1272.4,745.7 1273.9,746.2 1275.5,746.7 1277.0,747.2 1278.6,747.7 1280.2,748.2 1281.7,748.7 1283.3,749.1 1284.8,749.5 1286.4,749.8 1288.0,750.2 1289.5,750.4 1291.1,750.6 1292.6,750.7 1294.2,750.8 1295.8,750.8 1297.3,750.6 1298.9,750.4 1300.4,750.0 1302.0,749.5 1303.6,749.0 1305.1,748.4 1306.7,747.8 1308.2,747.1 1309.8,746.3 1311.4,745.6 1312.9,744.8 1314.5,744.0 1316.0,743.2 1317.6,742.5 1319.2,741.7 1320.7,740.9 1322.3,739.9 1323.8,738.8 1325.4,737.7 1327.0,736.6 1328.5,735.4 1330.1,734.2 1331.6,733.0 1333.2,731.9 1334.8,730.7 1336.3,729.6 1337.9,728.6 1339.4,727.7 1341.0,726.9 1342.6,726.1 1344.1,725.3 1345.7,724.5 1347.2,723.7 1348.8,722.9 1350.4,722.1 1351.9,721.3 1353.5,720.5 1355.0,719.8 1356.6,719.2 1358.2,718.5 1359.7,718.0 1361.3,717.5 1362.8,717.2 1364.4,716.9 1366.0,716.7 1367.5,716.6 1369.1,716.7 1370.6,717.3 1372.2,718.2 1373.8,719.3 1375.3,720.7 1376.9,722.3 1378.4,724.0 1380.0,725.8 1381.5,727.7 1383.1,729.4 1384.7,731.2 1386.2,732.9 1387.8,734.8 1389.3,736.8 1390.9,738.9 1392.5,741.0 1394.0,743.1 1395.6,745.0 1397.1,746.9 1398.7,749.1 1400.3,751.3 1401.8,753.6 1403.4,755.8 1404.9,758.1 1406.5,760.2 1408.1,762.1 1409.6,763.8 1411.2,765.2 1412.7,766.3 1414.3,767.0 1415.9,767.2 1417.4,766.9 1419.0,766.1 1420.5,764.9 1422.1,763.3 1423.7,761.3 1425.2,759.1 1426.8,756.7 1428.3,754.1 1429.9,751.5 1431.5,748.8 1433.0,746.2 1434.6,743.7 1436.1,741.3 1437.7,739.1 1439.3,737.2 1440.8,735.6 1442.4,734.4 1443.9,733.5 1445.5,732.5 1447.1,731.5 1448.6,730.6 1450.2,729.6 1451.7,728.7 1453.3,727.8 1454.9,726.9 1456.4,726.0 1458.0,725.2 1459.5,724.4 1461.1,723.6 1462.7,722.9 1464.2,722.2 1465.8,721.5 1467.3,720.9 1468.9,720.3 1470.5,719.8 1472.0,719.3 1473.6,718.9 1475.1,718.5 1476.7,718.2 1478.3,717.9 1479.8,717.7 1481.4,717.5 1482.9,717.4 1484.5,717.4 1486.1,717.5 1487.6,717.8 1489.2,718.3 1490.7,718.8 1492.3,719.6 1493.9,720.4 1495.4,721.3 1497.0,722.2 1498.5,723.2 1500.1,724.3 1501.7,725.3 1503.2,726.4 1504.8,727.4 1506.3,728.4 1507.9,729.3 1509.4,730.1 1511.0,730.9 1512.6,731.5 1514.1,732.1 1515.7,732.7 1517.2,733.4 1518.8,734.0 1520.4,734.6 1521.9,735.3 1523.5,735.9 1525.0,736.5 1526.6,737.1 1528.2,737.6 1529.7,738.2 1531.3,738.7 1532.8,739.1 1534.4,739.5 1536.0,739.9 1537.5,740.2 1539.1,740.4 1540.6,740.6 1542.2,740.7 1543.8,740.7 1545.3,740.6 1546.9,740.5 1548.4,740.4 1550.0,740.2 1551.6,740.0 1553.1,739.8 1554.7,739.5 1556.2,739.3 1557.8,739.0 1559.4,738.8 1560.9,738.6 1562.5,738.4 1564.0,738.3 1565.6,738.2 1567.2,738.2 1568.7,738.3 1570.3,738.5 1571.8,738.8 1573.4,739.2 1575.0,739.7 1576.5,740.3 1578.1,740.9 1579.6,741.6 1581.2,742.4 1582.8,743.1 1584.3,743.9 1585.9,744.6 1587.4,745.3 1589.0,746.1 1590.6,746.7 1592.1,747.3 1593.7,747.9 1595.2,748.4 1596.8,748.7 1598.4,749.0 1599.9,749.2 1601.5,749.2 1603.0,749.1 1604.6,748.8 1606.2,748.4 1607.7,747.9 1609.3,747.3 1610.8,746.7 1612.4,746.0 1614.0,745.2 1615.5,744.5 1617.1,743.8 1618.6,743.1 1620.2,742.4 1621.8,741.8 1623.3,741.3 1624.9,740.8 1626.4,740.5 1628.0,740.3 1629.6,740.3 1631.1,740.3 1632.7,740.4 1634.2,740.5 1635.8,740.6 1637.3,740.7 1638.9,740.8 1640.5,740.9 1642.0,741.0 1643.6,741.0 1645.1,740.9 1646.7,740.5 1648.3,739.8 1649.8,738.9 1651.4,737.9 1652.9,736.8 1654.5,735.6 1656.1,734.6 1657.6,733.6 1659.2,732.8 1660.7,732.1 1662.3,731.2 1663.9,730.4 1665.4,729.6 1667.0,728.8 1668.5,728.0 1670.1,727.2 1671.7,726.5 1673.2,725.9 1674.8,725.5 1676.3,725.1 1677.9,724.9 1679.5,724.8 1681.0,724.9 1682.6,725.0 1684.1,725.2 1685.7,725.4 1687.3,725.7 1688.8,725.9 1690.4,726.2 1691.9,726.4 1693.5,726.6 1695.1,726.7 1696.6,726.7 1698.2,726.7 1699.7,726.5 1701.3,726.4 1702.9,726.2 1704.4,726.0 1706.0,725.8 1707.5,725.6 1709.1,725.4 1710.7,725.2 1712.2,725.0 1713.8,724.9 1715.3,724.8 1716.9,724.8 1718.5,724.9 1720.0,725.2 1721.6,725.6 1723.1,726.1 1724.7,726.8 1726.3,727.5 1727.8,728.3 1729.4,729.1 1730.9,730.0 1732.5,730.9 1734.1,731.8 1735.6,732.7 1737.2,733.5 1738.7,734.3 1740.3,735.0 1741.9,735.6 1743.4,736.2 1745.0,736.6 1746.5,737.1 1748.1,737.5 1749.7,737.8 1751.2,738.2 1752.8,738.6 1754.3,738.9 1755.9,739.3 1757.5,739.6 1759.0,740.0 1760.6,740.4 1762.1,740.7 1763.7,741.2 1765.2,741.6 1766.8,742.1 1768.4,742.6 1769.9,743.2 1771.5,743.9 1773.0,744.5 1774.6,745.2 1776.2,746.0 1777.7,746.7 1779.3,747.4 1780.8,748.1 1782.4,748.8 1784.0,749.4 1785.5,750.0 1787.1,750.5 1788.6,751.0 1790.2,751.3 1791.8,751.6 1793.3,751.8 1794.9,751.9 1796.4,751.8 1798.0,751.6 1799.6,751.1 1801.1,750.5 1802.7,749.8 1804.2,749.0 1805.8,748.1 1807.4,747.2 1808.9,746.2 1810.5,745.3 1812.0,744.3 1813.6,743.5 1815.2,742.7 1816.7,741.9 1818.3,741.4 1819.8,740.8 1821.4,740.3 1823.0,739.7 1824.5,739.3 1826.1,738.8 1827.6,738.3 1829.2,737.9" fill="none" stroke="#ff0000" stroke-width="7.2" stroke-linejoin="round" marker-start="url(#mr)" marker-mid="url(#mr)" marker-end="url(#mr)"/>
<polyline points="271.0,1169.0 272.6,1190.0 274.1,1210.0 275.7,1228.0 277.2,1242.0 278.8,1246.0 280.4,1236.0 281.9,1212.0 283.5,1180.5 285.0,1147.4 286.6,1110.0 288.2,1067.0 289.7,1023.0 291.3,973.0 292.8,922.6 294.4,870.6 296.0,818.6 297.5,767.2 299.1,716.6 300.6,668.0 302.2,621.5 303.8,581.0 305.3,542.5 306.9,508.0 308.4,480.4 310.0,460.4 311.6,452.5 313.1,447.4 314.7,442.3 316.2,434.6 317.8,427.5 319.4,424.7 320.9,423.5 322.5,424.4 324.0,426.4 325.6,429.3 327.2,433.2 328.7,433.9 330.3,433.4 331.8,428.0 333.4,415.3 335.0,403.6 336.5,391.9 338.1,379.8 339.6,367.2 341.2,354.5 342.7,341.9 344.3,330.6 345.9,319.3 347.4,309.1 349.0,301.6 350.5,297.4 352.1,294.0 353.7,291.6 355.2,290.5 356.8,291.5 358.3,294.6 359.9,298.8 361.5,303.5 363.0,310.2 364.6,318.8 366.1,328.1 367.7,337.3 369.3,347.1 370.8,357.5 372.4,367.8 373.9,377.2 375.5,385.6 377.1,393.4 378.6,400.8 380.2,408.8 381.7,409.4 383.3,406.6 384.9,402.1 386.4,393.7 388.0,382.7 389.5,367.5 391.1,345.7 392.7,321.5 394.2,304.0 395.8,286.8 397.3,267.2 398.9,241.2 400.5,229.9 402.0,221.6 403.6,216.5 405.1,212.9 406.7,210.4 408.3,209.7 409.8,210.6 411.4,212.4 412.9,214.5 414.5,216.7 416.1,219.8 417.6,223.4 419.2,226.7 420.7,228.7 422.3,228.4 423.9,224.3 425.4,218.4 427.0,213.1 428.5,209.0 430.1,205.0 431.7,201.0 433.2,196.2 434.8,190.8 436.3,185.4 437.9,181.2 439.5,178.4 441.0,175.9 442.6,173.9 444.1,172.7 445.7,172.5 447.3,172.7 448.8,172.9 450.4,173.2 451.9,173.7 453.5,174.2 455.1,174.8 456.6,175.4 458.2,176.0 459.7,176.4 461.3,176.8 462.9,177.2 464.4,177.6 466.0,178.0 467.5,178.3 469.1,178.5 470.6,178.6 472.2,178.6 473.8,178.5 475.3,178.4 476.9,178.2 478.4,178.0 480.0,177.7 481.6,177.4 483.1,177.1 484.7,176.7 486.2,176.1 487.8,175.2 489.4,174.2 490.9,173.1 492.5,171.9 494.0,170.7 495.6,169.5 497.2,168.3 498.7,167.1 500.3,165.7 501.8,164.4 503.4,163.0 505.0,161.7 506.5,160.4 508.1,159.2 509.6,158.1 511.2,157.1 512.8,156.2 514.3,155.2 515.9,154.3 517.4,153.4 519.0,152.6 520.6,151.7 522.1,150.7 523.7,149.8 525.2,148.8 526.8,147.9 528.4,146.9 529.9,146.1 531.5,145.2 533.0,144.5 534.6,143.8 536.2,143.1 537.7,142.4 539.3,141.7 540.8,141.1 542.4,140.6 544.0,140.1 545.5,139.8 547.1,139.5 548.6,139.3 550.2,139.0 551.8,138.8 553.3,138.7 554.9,138.5 556.4,138.4 558.0,138.4 559.6,138.5 561.1,138.8 562.7,139.3 564.2,139.7 565.8,140.0 567.4,140.1 568.9,140.1 570.5,140.1 572.0,140.1 573.6,140.1 575.2,140.1 576.7,140.0 578.3,140.0 579.8,140.0 581.4,140.0 583.0,140.0 584.5,139.9 586.1,139.9 587.6,139.9 589.2,139.9 590.8,139.8 592.3,139.8 593.9,139.7 595.4,139.6 597.0,139.5 598.5,139.3 600.1,139.1 601.7,138.9 603.2,138.7 604.8,138.5 606.3,138.2 607.9,137.9 609.5,137.6 611.0,137.3 612.6,137.0 614.1,136.6 615.7,136.3 617.3,135.9 618.8,135.5 620.4,134.9 621.9,134.3 623.5,133.6 625.1,132.8 626.6,132.0 628.2,131.2 629.7,130.4 631.3,129.6 632.9,128.8 634.4,128.0 636.0,127.3 637.5,126.7 639.1,126.2 640.7,125.7 642.2,125.4 643.8,125.2 645.3,124.9 646.9,124.7 648.5,124.5 650.0,124.3 651.6,124.1 653.1,123.9 654.7,123.7 656.3,123.5 657.8,123.3 659.4,123.1 660.9,123.0 662.5,122.8 664.1,122.7 665.6,122.5 667.2,122.4 668.7,122.3 670.3,122.2 671.9,122.1 673.4,122.0 675.0,121.9 676.5,121.8 678.1,121.8 679.7,121.7 681.2,121.7 682.8,121.7 684.3,121.7 685.9,121.7 687.5,121.8 689.0,121.9 690.6,122.0 692.1,122.1 693.7,122.2 695.3,122.3 696.8,122.4 698.4,122.5 699.9,122.6 701.5,122.6 703.1,122.7 704.6,122.7 706.2,122.7 707.7,122.6 709.3,122.5 710.9,122.4 712.4,122.3 714.0,122.1 715.5,121.9 717.1,121.7 718.7,121.5 720.2,121.3 721.8,121.0 723.3,120.8 724.9,120.5 726.4,120.2 728.0,119.9 729.6,119.7 731.1,119.4 732.7,119.1 734.2,118.8 735.8,118.5 737.4,118.3 738.9,118.0 740.5,117.8 742.0,117.6 743.6,117.4 745.2,117.2 746.7,117.0 748.3,116.9 749.8,116.7 751.4,116.5 753.0,116.4 754.5,116.2 756.1,116.0 757.6,115.9 759.2,115.7 760.8,115.5 762.3,115.4 763.9,115.2 765.4,115.1 767.0,114.9 768.6,114.8 770.1,114.7 771.7,114.5 773.2,114.4 774.8,114.3 776.4,114.2 777.9,114.1 779.5,114.0 781.0,113.9 782.6,113.8 784.2,113.7 785.7,113.7 787.3,113.6 788.8,113.6 790.4,113.5 792.0,113.5 793.5,113.4 795.1,113.4 796.6,113.4 798.2,113.3 799.8,113.3 801.3,113.2 802.9,113.2 804.4,113.2 806.0,113.1 807.6,113.1 809.1,113.1 810.7,113.1 812.2,113.0 813.8,113.0 815.4,113.0 816.9,113.0 818.5,113.0 820.0,112.9 821.6,112.9 823.2,112.9 824.7,112.9 826.3,112.9 827.8,112.9 829.4,112.9 831.0,112.9 832.5,113.0 834.1,113.1 835.6,113.3 837.2,113.4 838.8,113.6 840.3,113.7 841.9,113.9 843.4,114.1 845.0,114.2 846.6,114.3 848.1,114.4 849.7,114.4 851.2,114.4 852.8,114.4 854.4,114.4 855.9,114.3 857.5,114.3 859.0,114.3 860.6,114.2 862.1,114.2 863.7,114.1 865.3,114.1 866.8,114.0 868.4,113.9 869.9,113.9 871.5,113.8 873.1,113.7 874.6,113.7 876.2,113.6 877.7,113.5 879.3,113.4 880.9,113.4 882.4,113.3 884.0,113.2 885.5,113.1 887.1,113.1 888.7,113.0 890.2,112.9 891.8,112.9 893.3,112.8 894.9,112.8 896.5,112.7 898.0,112.6 899.6,112.5 901.1,112.5 902.7,112.4 904.3,112.3 905.8,112.2 907.4,112.1 908.9,112.1 910.5,112.0 912.1,111.9 913.6,111.8 915.2,111.8 916.7,111.7 918.3,111.6 919.9,111.6 921.4,111.5 923.0,111.5 924.5,111.4 926.1,111.4 927.7,111.3 929.2,111.3 930.8,111.3 932.3,111.3 933.9,111.3 935.5,111.3 937.0,111.3 938.6,111.3 940.1,111.3 941.7,111.3 943.3,111.3 944.8,111.3 946.4,111.3 947.9,111.3 949.5,111.3 951.1,111.3 952.6,111.3 954.2,111.3 955.7,111.3 957.3,111.3 958.9,111.3 960.4,111.3 962.0,111.3 963.5,111.3 965.1,111.3 966.7,111.3 968.2,111.3 969.8,111.3 971.3,111.3 972.9,111.3 974.5,111.3 976.0,111.3 977.6,111.3 979.1,111.3 980.7,111.3 982.3,111.3 983.8,111.2 985.4,111.2 986.9,111.2 988.5,111.2 990.0,111.1 991.6,111.1 993.2,111.1 994.7,111.1 996.3,111.0 997.8,111.0 999.4,111.0 1001.0,110.9 1002.5,110.9 1004.1,110.8 1005.6,110.7 1007.2,110.6 1008.8,110.5 1010.3,110.3 1011.9,110.2 1013.4,110.0 1015.0,109.8 1016.6,109.6 1018.1,109.4 1019.7,109.2 1021.2,109.1 1022.8,108.9 1024.4,108.7 1025.9,108.5 1027.5,108.4 1029.0,108.2 1030.6,108.1 1032.2,107.9 1033.7,107.9 1035.3,107.8 1036.8,107.7 1038.4,107.7 1040.0,107.7 1041.5,107.7 1043.1,107.8 1044.6,107.9 1046.2,108.0 1047.8,108.1 1049.3,108.3 1050.9,108.4 1052.4,108.6 1054.0,108.8 1055.6,109.0 1057.1,109.2 1058.7,109.4 1060.2,109.6 1061.8,109.8 1063.4,110.0 1064.9,110.2 1066.5,110.5 1068.0,110.7 1069.6,110.8 1071.2,111.0 1072.7,111.2 1074.3,111.4 1075.8,111.5 1077.4,111.6 1079.0,111.7 1080.5,111.8 1082.1,111.9 1083.6,111.9 1085.2,111.9 1086.8,111.9 1088.3,111.9 1089.9,111.9 1091.4,111.9 1093.0,111.8 1094.6,111.8 1096.1,111.8 1097.7,111.8 1099.2,111.8 1100.8,111.7 1102.4,111.7 1103.9,111.7 1105.5,111.6 1107.0,111.6 1108.6,111.5 1110.2,111.5 1111.7,111.5 1113.3,111.4 1114.8,111.4 1116.4,111.3 1117.9,111.3 1119.5,111.2 1121.1,111.2 1122.6,111.1 1124.2,111.1 1125.7,111.0 1127.3,110.9 1128.9,110.9 1130.4,110.8 1132.0,110.8 1133.5,110.7 1135.1,110.7 1136.7,110.6 1138.2,110.6 1139.8,110.5 1141.3,110.5 1142.9,110.4 1144.5,110.4 1146.0,110.3 1147.6,110.3 1149.1,110.2 1150.7,110.2 1152.3,110.1 1153.8,110.1 1155.4,110.0 1156.9,110.0 1158.5,110.0 1160.1,109.9 1161.6,109.9 1163.2,109.9 1164.7,109.8 1166.3,109.8 1167.9,109.8 1169.4,109.8 1171.0,109.8 1172.5,109.7 1174.1,109.7 1175.7,109.7 1177.2,109.7 1178.8,109.7 1180.3,109.7 1181.9,109.6 1183.5,109.6 1185.0,109.6 1186.6,109.6 1188.1,109.6 1189.7,109.6 1191.3,109.6 1192.8,109.6 1194.4,109.5 1195.9,109.5 1197.5,109.5 1199.1,109.5 1200.6,109.5 1202.2,109.5 1203.7,109.5 1205.3,109.4 1206.9,109.4 1208.4,109.4 1210.0,109.4 1211.5,109.4 1213.1,109.4 1214.7,109.3 1216.2,109.3 1217.8,109.3 1219.3,109.3 1220.9,109.3 1222.5,109.2 1224.0,109.2 1225.6,109.2 1227.1,109.2 1228.7,109.2 1230.3,109.1 1231.8,109.1 1233.4,109.1 1234.9,109.1 1236.5,109.1 1238.1,109.0 1239.6,109.0 1241.2,109.0 1242.7,109.0 1244.3,108.9 1245.8,108.9 1247.4,108.9 1249.0,108.8 1250.5,108.8 1252.1,108.8 1253.6,108.7 1255.2,108.7 1256.8,108.6 1258.3,108.5 1259.9,108.5 1261.4,108.4 1263.0,108.3 1264.6,108.2 1266.1,108.1 1267.7,108.0 1269.2,107.9 1270.8,107.8 1272.4,107.7 1273.9,107.6 1275.5,107.5 1277.0,107.4 1278.6,107.3 1280.2,107.2 1281.7,107.1 1283.3,107.0 1284.8,106.9 1286.4,106.8 1288.0,106.7 1289.5,106.6 1291.1,106.5 1292.6,106.4 1294.2,106.3 1295.8,106.2 1297.3,106.1 1298.9,106.0 1300.4,106.0 1302.0,105.9 1303.6,105.9 1305.1,105.8 1306.7,105.8 1308.2,105.7 1309.8,105.7 1311.4,105.7 1312.9,105.7 1314.5,105.7 1316.0,105.8 1317.6,105.8 1319.2,105.9 1320.7,106.0 1322.3,106.2 1323.8,106.3 1325.4,106.5 1327.0,106.6 1328.5,106.8 1330.1,107.0 1331.6,107.2 1333.2,107.4 1334.8,107.6 1336.3,107.8 1337.9,108.0 1339.4,108.2 1341.0,108.3 1342.6,108.5 1344.1,108.7 1345.7,108.8 1347.2,108.9 1348.8,109.0 1350.4,109.1 1351.9,109.2 1353.5,109.2 1355.0,109.2 1356.6,109.2 1358.2,109.2 1359.7,109.2 1361.3,109.2 1362.8,109.1 1364.4,109.1 1366.0,109.1 1367.5,109.1 1369.1,109.0 1370.6,109.0 1372.2,109.0 1373.8,108.9 1375.3,108.9 1376.9,108.9 1378.4,108.8 1380.0,108.8 1381.5,108.8 1383.1,108.7 1384.7,108.7 1386.2,108.6 1387.8,108.6 1389.3,108.5 1390.9,108.4 1392.5,108.4 1394.0,108.3 1395.6,108.2 1397.1,108.1 1398.7,108.0 1400.3,108.0 1401.8,107.9 1403.4,107.8 1404.9,107.7 1406.5,107.6 1408.1,107.5 1409.6,107.4 1411.2,107.3 1412.7,107.2 1414.3,107.1 1415.9,107.0 1417.4,106.9 1419.0,106.8 1420.5,106.7 1422.1,106.6 1423.7,106.5 1425.2,106.4 1426.8,106.3 1428.3,106.2 1429.9,106.1 1431.5,106.0 1433.0,105.9 1434.6,105.8 1436.1,105.7 1437.7,105.7 1439.3,105.6 1440.8,105.5 1442.4,105.5 1443.9,105.4 1445.5,105.4 1447.1,105.3 1448.6,105.3 1450.2,105.2 1451.7,105.2 1453.3,105.2 1454.9,105.1 1456.4,105.1 1458.0,105.1 1459.5,105.0 1461.1,105.0 1462.7,105.0 1464.2,104.9 1465.8,104.9 1467.3,104.9 1468.9,104.8 1470.5,104.8 1472.0,104.8 1473.6,104.8 1475.1,104.7 1476.7,104.7 1478.3,104.7 1479.8,104.7 1481.4,104.6 1482.9,104.6 1484.5,104.6 1486.1,104.6 1487.6,104.5 1489.2,104.5 1490.7,104.5 1492.3,104.5 1493.9,104.4 1495.4,104.4 1497.0,104.4 1498.5,104.4 1500.1,104.4 1501.7,104.3 1503.2,104.3 1504.8,104.3 1506.3,104.3 1507.9,104.3 1509.4,104.2 1511.0,104.2 1512.6,104.2 1514.1,104.2 1515.7,104.2 1517.2,104.1 1518.8,104.1 1520.4,104.1 1521.9,104.1 1523.5,104.1 1525.0,104.0 1526.6,104.0 1528.2,104.0 1529.7,104.0 1531.3,104.0 1532.8,104.0 1534.4,103.9 1536.0,103.9 1537.5,103.9 1539.1,103.9 1540.6,103.9 1542.2,103.8 1543.8,103.8 1545.3,103.8 1546.9,103.8 1548.4,103.8 1550.0,103.8 1551.6,103.7 1553.1,103.7 1554.7,103.7 1556.2,103.7 1557.8,103.7 1559.4,103.7 1560.9,103.6 1562.5,103.6 1564.0,103.6 1565.6,103.6 1567.2,103.6 1568.7,103.6 1570.3,103.6 1571.8,103.5 1573.4,103.5 1575.0,103.5 1576.5,103.5 1578.1,103.5 1579.6,103.5 1581.2,103.5 1582.8,103.4 1584.3,103.4 1585.9,103.4 1587.4,103.4 1589.0,103.4 1590.6,103.4 1592.1,103.4 1593.7,103.3 1595.2,103.3 1596.8,103.3 1598.4,103.3 1599.9,103.3 1601.5,103.3 1603.0,103.3 1604.6,103.2 1606.2,103.2 1607.7,103.2 1609.3,103.2 1610.8,103.2 1612.4,103.2 1614.0,103.2 1615.5,103.2 1617.1,103.1 1618.6,103.1 1620.2,103.1 1621.8,103.1 1623.3,103.1 1624.9,103.1 1626.4,103.1 1628.0,103.1 1629.6,103.1 1631.1,103.1 1632.7,103.0 1634.2,103.0 1635.8,103.0 1637.3,103.0 1638.9,103.0 1640.5,103.0 1642.0,103.0 1643.6,103.0 1645.1,103.0 1646.7,103.0 1648.3,103.0 1649.8,103.0 1651.4,102.9 1652.9,102.9 1654.5,102.9 1656.1,102.9 1657.6,102.9 1659.2,102.9 1660.7,102.9 1662.3,102.9 1663.9,102.9 1665.4,102.9 1667.0,102.8 1668.5,102.8 1670.1,102.8 1671.7,102.8 1673.2,102.8 1674.8,102.8 1676.3,102.8 1677.9,102.7 1679.5,102.7 1681.0,102.7 1682.6,102.7 1684.1,102.7 1685.7,102.7 1687.3,102.6 1688.8,102.6 1690.4,102.6 1691.9,102.6 1693.5,102.6 1695.1,102.5 1696.6,102.5 1698.2,102.4 1699.7,102.4 1701.3,102.3 1702.9,102.3 1704.4,102.2 1706.0,102.1 1707.5,102.1 1709.1,102.0 1710.7,101.9 1712.2,101.8 1713.8,101.7 1715.3,101.6 1716.9,101.6 1718.5,101.5 1720.0,101.4 1721.6,101.3 1723.1,101.2 1724.7,101.1 1726.3,101.0 1727.8,100.9 1729.4,100.8 1730.9,100.7 1732.5,100.6 1734.1,100.5 1735.6,100.4 1737.2,100.3 1738.7,100.2 1740.3,100.1 1741.9,100.1 1743.4,100.0 1745.0,99.9 1746.5,99.8 1748.1,99.7 1749.7,99.6 1751.2,99.5 1752.8,99.5 1754.3,99.4 1755.9,99.3 1757.5,99.2 1759.0,99.1 1760.6,99.0 1762.1,98.9 1763.7,98.8 1765.2,98.7 1766.8,98.6 1768.4,98.5 1769.9,98.5 1771.5,98.4 1773.0,98.3 1774.6,98.2 1776.2,98.1 1777.7,98.0 1779.3,97.9 1780.8,97.8 1782.4,97.8 1784.0,97.7 1785.5,97.6 1787.1,97.5 1788.6,97.4 1790.2,97.4 1791.8,97.3 1793.3,97.2 1794.9,97.2 1796.4,97.1 1798.0,97.0 1799.6,97.0 1801.1,96.9 1802.7,96.9 1804.2,96.8 1805.8,96.8 1807.4,96.8 1808.9,96.7 1810.5,96.7 1812.0,96.6 1813.6,96.6 1815.2,96.5 1816.7,96.4 1818.3,96.3 1819.8,96.1 1821.4,96.0 1823.0,95.8 1824.5,95.6 1826.1,95.4 1827.6,95.2 1829.2,95.0" fill="none" stroke="#bf00bf" stroke-width="7.2" stroke-linejoin="round" stroke-dasharray="27 11.2" marker-start="url(#mm)" marker-mid="url(#mm)" marker-end="url(#mm)"/>
<polyline points="271.0,967.2 272.6,903.3 274.1,848.4 275.7,796.3 277.2,751.0 278.8,708.5 280.4,672.0 281.9,639.7 283.5,609.3 285.0,583.0 286.6,560.7 288.2,541.5 289.7,524.3 291.3,506.0 292.8,493.4 294.4,482.9 296.0,473.6 297.5,465.0 299.1,456.4 300.6,447.2 302.2,437.3 303.8,427.3 305.3,417.4 306.9,407.6 308.4,398.2 310.0,388.4 311.6,377.3 313.1,363.9 314.7,350.1 316.2,336.5 317.8,323.1 319.4,310.7 320.9,299.3 322.5,288.8 324.0,280.0 325.6,272.5 327.2,266.4 328.7,262.4 330.3,259.3 331.8,257.0 333.4,255.8 335.0,255.1 336.5,254.7 338.1,254.4 339.6,254.0 341.2,253.5 342.7,252.8 344.3,251.6 345.9,250.0 347.4,248.0 349.0,245.7 350.5,243.1 352.1,240.4 353.7,236.9 355.2,232.8 356.8,228.6 358.3,224.6 359.9,220.4 361.5,216.9 363.0,214.8 364.6,213.5 366.1,212.7 367.7,212.4 369.3,213.1 370.8,214.4 372.4,216.0 373.9,217.7 375.5,219.1 377.1,219.8 378.6,219.7 380.2,218.6 381.7,216.9 383.3,214.9 384.9,212.7 386.4,209.6 388.0,205.8 389.5,201.4 391.1,195.6 392.7,189.3 394.2,182.8 395.8,176.0 397.3,171.1 398.9,167.5 400.5,164.6 402.0,163.0 403.6,162.1 405.1,161.4 406.7,160.9 408.3,160.5 409.8,160.4 411.4,160.5 412.9,160.6 414.5,160.9 416.1,161.1 417.6,161.4 419.2,161.6 420.7,161.7 422.3,161.9 423.9,162.1 425.4,162.2 427.0,162.1 428.5,161.7 430.1,161.0 431.7,160.2 433.2,159.2 434.8,157.7 436.3,156.1 437.9,154.5 439.5,153.0 441.0,151.5 442.6,149.9 444.1,148.5 445.7,147.2 447.3,146.0 448.8,144.7 450.4,143.2 451.9,141.4 453.5,139.4 455.1,137.8 456.6,136.9 458.2,136.2 459.7,135.7 461.3,135.4 462.9,135.3 464.4,135.4 466.0,135.5 467.5,135.7 469.1,135.8 470.6,136.0 472.2,136.1 473.8,136.3 475.3,136.4 476.9,136.5 478.4,136.5 480.0,136.1 481.6,135.4 483.1,134.5 484.7,133.6 486.2,132.6 487.8,131.6 489.4,130.6 490.9,129.5 492.5,128.4 494.0,127.3 495.6,126.2 497.2,124.9 498.7,123.7 500.3,122.6 501.8,121.8 503.4,121.3 505.0,120.8 506.5,120.4 508.1,120.1 509.6,119.8 511.2,119.6 512.8,119.6 514.3,119.7 515.9,120.0 517.4,120.3 519.0,120.7 520.6,121.1 522.1,121.6 523.7,122.0 525.2,122.3 526.8,122.5 528.4,122.5 529.9,122.4 531.5,122.3 533.0,122.0 534.6,121.7 536.2,121.4 537.7,121.0 539.3,120.5 540.8,120.1 542.4,119.6 544.0,119.2 545.5,118.6 547.1,117.9 548.6,117.0 550.2,116.2 551.8,115.3 553.3,114.6 554.9,114.0 556.4,113.6 558.0,113.3 559.6,113.1 561.1,112.9 562.7,112.7 564.2,112.6 565.8,112.4 567.4,112.3 568.9,112.1 570.5,111.9 572.0,111.7 573.6,111.4 575.2,111.1 576.7,110.5 578.3,109.7 579.8,108.8 581.4,107.9 583.0,107.0 584.5,106.3 586.1,105.8 587.6,105.7 589.2,105.7 590.8,105.7 592.3,105.8 593.9,105.8 595.4,105.8 597.0,105.9 598.5,105.9 600.1,105.9 601.7,106.0 603.2,106.0 604.8,106.0 606.3,106.0 607.9,105.9 609.5,105.8 611.0,105.7 612.6,105.4 614.1,105.2 615.7,104.9 617.3,104.6 618.8,104.3 620.4,103.7 621.9,102.9 623.5,102.1 625.1,101.3 626.6,100.6 628.2,100.3 629.7,100.1 631.3,99.9 632.9,99.8 634.4,99.6 636.0,99.4 637.5,99.3 639.1,99.2 640.7,99.1 642.2,99.0 643.8,98.9 645.3,98.8 646.9,98.7 648.5,98.6 650.0,98.5 651.6,98.5 653.1,98.4 654.7,98.3 656.3,98.2 657.8,98.1 659.4,98.0 660.9,97.9 662.5,97.8 664.1,97.7 665.6,97.6 667.2,97.5 668.7,97.4 670.3,97.2 671.9,97.1 673.4,97.0 675.0,96.8 676.5,96.7 678.1,96.6 679.7,96.4 681.2,96.3 682.8,96.2 684.3,96.0 685.9,95.9 687.5,95.8 689.0,95.7 690.6,95.6 692.1,95.4 693.7,95.3 695.3,95.2 696.8,95.1 698.4,95.0 699.9,94.9 701.5,94.8 703.1,94.8 704.6,94.7 706.2,94.6 707.7,94.6 709.3,94.5 710.9,94.4 712.4,94.4 714.0,94.3 715.5,94.2 717.1,94.2 718.7,94.1 720.2,94.0 721.8,94.0 723.3,93.9 724.9,93.9 726.4,93.8 728.0,93.8 729.6,93.7 731.1,93.7 732.7,93.6 734.2,93.6 735.8,93.6 737.4,93.5 738.9,93.5 740.5,93.5 742.0,93.4 743.6,93.4 745.2,93.4 746.7,93.4 748.3,93.4 749.8,93.4 751.4,93.4 753.0,93.3 754.5,93.3 756.1,93.3 757.6,93.3 759.2,93.3 760.8,93.3 762.3,93.3 763.9,93.3 765.4,93.3 767.0,93.3 768.6,93.2 770.1,93.2 771.7,93.2 773.2,93.2 774.8,93.2 776.4,93.2 777.9,93.2 779.5,93.2 781.0,93.2 782.6,93.2 784.2,93.2 785.7,93.2 787.3,93.2 788.8,93.2 790.4,93.2 792.0,93.2 793.5,93.2 795.1,93.2 796.6,93.2 798.2,93.2 799.8,93.2 801.3,93.2 802.9,93.2 804.4,93.2 806.0,93.2 807.6,93.2 809.1,93.2 810.7,93.2 812.2,93.2 813.8,93.2 815.4,93.2 816.9,93.2 818.5,93.2 820.0,93.2 821.6,93.2 823.2,93.2 824.7,93.2 826.3,93.2 827.8,93.2 829.4,93.2 831.0,93.2 832.5,93.3 834.1,93.3 835.6,93.4 837.2,93.5 838.8,93.7 840.3,93.8 841.9,93.9 843.4,94.0 845.0,94.1 846.6,94.1 848.1,94.2 849.7,94.2 851.2,94.2 852.8,94.2 854.4,94.2 855.9,94.1 857.5,94.1 859.0,94.1 860.6,94.0 862.1,94.0 863.7,93.9 865.3,93.9 866.8,93.8 868.4,93.7 869.9,93.7 871.5,93.6 873.1,93.5 874.6,93.4 876.2,93.4 877.7,93.3 879.3,93.2 880.9,93.2 882.4,93.1 884.0,93.0 885.5,93.0 887.1,92.9 888.7,92.9 890.2,92.8 891.8,92.8 893.3,92.8 894.9,92.7 896.5,92.7 898.0,92.6 899.6,92.6 901.1,92.5 902.7,92.5 904.3,92.5 905.8,92.4 907.4,92.4 908.9,92.3 910.5,92.3 912.1,92.3 913.6,92.2 915.2,92.2 916.7,92.2 918.3,92.1 919.9,92.1 921.4,92.1 923.0,92.1 924.5,92.1 926.1,92.0 927.7,92.0 929.2,92.0 930.8,92.0 932.3,92.0 933.9,92.0 935.5,92.0 937.0,92.0 938.6,92.0 940.1,92.0 941.7,92.0 943.3,92.1 944.8,92.1 946.4,92.1 947.9,92.1 949.5,92.1 951.1,92.2 952.6,92.2 954.2,92.2 955.7,92.2 957.3,92.3 958.9,92.3 960.4,92.3 962.0,92.3 963.5,92.3 965.1,92.3 966.7,92.4 968.2,92.4 969.8,92.4 971.3,92.4 972.9,92.4 974.5,92.4 976.0,92.4 977.6,92.4 979.1,92.4 980.7,92.4 982.3,92.3 983.8,92.3 985.4,92.3 986.9,92.3 988.5,92.2 990.0,92.2 991.6,92.2 993.2,92.1 994.7,92.1 996.3,92.1 997.8,92.0 999.4,92.0 1001.0,91.9 1002.5,91.9 1004.1,91.8 1005.6,91.8 1007.2,91.8 1008.8,91.7 1010.3,91.7 1011.9,91.6 1013.4,91.6 1015.0,91.6 1016.6,91.5 1018.1,91.5 1019.7,91.4 1021.2,91.4 1022.8,91.4 1024.4,91.4 1025.9,91.3 1027.5,91.3 1029.0,91.3 1030.6,91.2 1032.2,91.2 1033.7,91.2 1035.3,91.2 1036.8,91.1 1038.4,91.1 1040.0,91.1 1041.5,91.0 1043.1,91.0 1044.6,91.0 1046.2,90.9 1047.8,90.9 1049.3,90.9 1050.9,90.9 1052.4,90.8 1054.0,90.8 1055.6,90.8 1057.1,90.8 1058.7,90.7 1060.2,90.7 1061.8,90.7 1063.4,90.7 1064.9,90.6 1066.5,90.6 1068.0,90.6 1069.6,90.6 1071.2,90.6 1072.7,90.6 1074.3,90.5 1075.8,90.5 1077.4,90.5 1079.0,90.5 1080.5,90.5 1082.1,90.5 1083.6,90.5 1085.2,90.5 1086.8,90.5 1088.3,90.5 1089.9,90.5 1091.4,90.5 1093.0,90.5 1094.6,90.5 1096.1,90.5 1097.7,90.5 1099.2,90.5 1100.8,90.5 1102.4,90.5 1103.9,90.5 1105.5,90.5 1107.0,90.5 1108.6,90.5 1110.2,90.5 1111.7,90.5 1113.3,90.5 1114.8,90.5 1116.4,90.5 1117.9,90.5 1119.5,90.5 1121.1,90.5 1122.6,90.5 1124.2,90.5 1125.7,90.5 1127.3,90.5 1128.9,90.5 1130.4,90.5 1132.0,90.5 1133.5,90.5 1135.1,90.5 1136.7,90.5 1138.2,90.5 1139.8,90.5 1141.3,90.5 1142.9,90.5 1144.5,90.5 1146.0,90.5 1147.6,90.5 1149.1,90.5 1150.7,90.5 1152.3,90.5 1153.8,90.5 1155.4,90.5 1156.9,90.5 1158.5,90.5 1160.1,90.5 1161.6,90.5 1163.2,90.5 1164.7,90.5 1166.3,90.6 1167.9,90.6 1169.4,90.6 1171.0,90.6 1172.5,90.6 1174.1,90.6 1175.7,90.6 1177.2,90.6 1178.8,90.6 1180.3,90.6 1181.9,90.7 1183.5,90.7 1185.0,90.7 1186.6,90.7 1188.1,90.7 1189.7,90.7 1191.3,90.7 1192.8,90.7 1194.4,90.8 1195.9,90.8 1197.5,90.8 1199.1,90.8 1200.6,90.8 1202.2,90.8 1203.7,90.8 1205.3,90.9 1206.9,90.9 1208.4,90.9 1210.0,90.9 1211.5,90.9 1213.1,91.0 1214.7,91.0 1216.2,91.0 1217.8,91.0 1219.3,91.1 1220.9,91.1 1222.5,91.2 1224.0,91.2 1225.6,91.2 1227.1,91.3 1228.7,91.3 1230.3,91.4 1231.8,91.4 1233.4,91.5 1234.9,91.5 1236.5,91.6 1238.1,91.6 1239.6,91.6 1241.2,91.7 1242.7,91.7 1244.3,91.8 1245.8,91.8 1247.4,91.8 1249.0,91.9 1250.5,91.9 1252.1,91.9 1253.6,91.9 1255.2,92.0 1256.8,92.0 1258.3,92.0 1259.9,92.0 1261.4,92.0 1263.0,92.0 1264.6,91.9 1266.1,91.9 1267.7,91.8 1269.2,91.7 1270.8,91.6 1272.4,91.4 1273.9,91.3 1275.5,91.1 1277.0,91.0 1278.6,90.8 1280.2,90.6 1281.7,90.4 1283.3,90.2 1284.8,90.0 1286.4,89.8 1288.0,89.6 1289.5,89.4 1291.1,89.2 1292.6,89.0 1294.2,88.8 1295.8,88.6 1297.3,88.4 1298.9,88.2 1300.4,88.1 1302.0,87.9 1303.6,87.8 1305.1,87.7 1306.7,87.6 1308.2,87.5 1309.8,87.4 1311.4,87.4 1312.9,87.4 1314.5,87.4 1316.0,87.4 1317.6,87.4 1319.2,87.4 1320.7,87.5 1322.3,87.5 1323.8,87.5 1325.4,87.6 1327.0,87.6 1328.5,87.6 1330.1,87.7 1331.6,87.7 1333.2,87.8 1334.8,87.8 1336.3,87.9 1337.9,87.9 1339.4,87.9 1341.0,88.0 1342.6,88.0 1344.1,88.1 1345.7,88.1 1347.2,88.1 1348.8,88.1 1350.4,88.2 1351.9,88.2 1353.5,88.2 1355.0,88.2 1356.6,88.2 1358.2,88.2 1359.7,88.2 1361.3,88.2 1362.8,88.2 1364.4,88.2 1366.0,88.2 1367.5,88.2 1369.1,88.2 1370.6,88.2 1372.2,88.2 1373.8,88.2 1375.3,88.3 1376.9,88.3 1378.4,88.3 1380.0,88.3 1381.5,88.3 1383.1,88.3 1384.7,88.3 1386.2,88.3 1387.8,88.3 1389.3,88.3 1390.9,88.3 1392.5,88.3 1394.0,88.3 1395.6,88.3 1397.1,88.3 1398.7,88.3 1400.3,88.3 1401.8,88.3 1403.4,88.3 1404.9,88.3 1406.5,88.3 1408.1,88.3 1409.6,88.3 1411.2,88.3 1412.7,88.3 1414.3,88.3 1415.9,88.3 1417.4,88.3 1419.0,88.3 1420.5,88.3 1422.1,88.3 1423.7,88.3 1425.2,88.3 1426.8,88.3 1428.3,88.3 1429.9,88.3 1431.5,88.3 1433.0,88.3 1434.6,88.3 1436.1,88.3 1437.7,88.3 1439.3,88.3 1440.8,88.3 1442.4,88.3 1443.9,88.3 1445.5,88.3 1447.1,88.3 1448.6,88.3 1450.2,88.3 1451.7,88.3 1453.3,88.3 1454.9,88.3 1456.4,88.3 1458.0,88.3 1459.5,88.3 1461.1,88.3 1462.7,88.3 1464.2,88.3 1465.8,88.3 1467.3,88.3 1468.9,88.3 1470.5,88.3 1472.0,88.3 1473.6,88.3 1475.1,88.3 1476.7,88.3 1478.3,88.3 1479.8,88.3 1481.4,88.3 1482.9,88.3 1484.5,88.3 1486.1,88.3 1487.6,88.3 1489.2,88.3 1490.7,88.3 1492.3,88.3 1493.9,88.4 1495.4,88.4 1497.0,88.5 1498.5,88.6 1500.1,88.6 1501.7,88.7 1503.2,88.8 1504.8,88.9 1506.3,89.0 1507.9,89.1 1509.4,89.2 1511.0,89.3 1512.6,89.4 1514.1,89.5 1515.7,89.6 1517.2,89.7 1518.8,89.7 1520.4,89.8 1521.9,89.9 1523.5,89.9 1525.0,90.0 1526.6,90.0 1528.2,90.0 1529.7,90.0 1531.3,90.0 1532.8,90.0 1534.4,89.9 1536.0,89.9 1537.5,89.8 1539.1,89.7 1540.6,89.6 1542.2,89.5 1543.8,89.4 1545.3,89.3 1546.9,89.2 1548.4,89.1 1550.0,89.0 1551.6,88.9 1553.1,88.7 1554.7,88.6 1556.2,88.5 1557.8,88.3 1559.4,88.2 1560.9,88.1 1562.5,88.0 1564.0,87.8 1565.6,87.7 1567.2,87.6 1568.7,87.5 1570.3,87.4 1571.8,87.3 1573.4,87.2 1575.0,87.2 1576.5,87.1 1578.1,87.1 1579.6,87.0 1581.2,87.0 1582.8,87.0 1584.3,87.0 1585.9,87.0 1587.4,87.0 1589.0,87.0 1590.6,87.0 1592.1,87.0 1593.7,87.0 1595.2,87.0 1596.8,87.0 1598.4,87.0 1599.9,87.0 1601.5,87.0 1603.0,87.0 1604.6,87.0 1606.2,87.0 1607.7,87.0 1609.3,87.0 1610.8,87.1 1612.4,87.1 1614.0,87.1 1615.5,87.1 1617.1,87.1 1618.6,87.1 1620.2,87.1 1621.8,87.1 1623.3,87.1 1624.9,87.1 1626.4,87.1 1628.0,87.1 1629.6,87.1 1631.1,87.1 1632.7,87.1 1634.2,87.1 1635.8,87.1 1637.3,87.1 1638.9,87.2 1640.5,87.2 1642.0,87.2 1643.6,87.2 1645.1,87.2 1646.7,87.2 1648.3,87.2 1649.8,87.2 1651.4,87.2 1652.9,87.2 1654.5,87.2 1656.1,87.2 1657.6,87.2 1659.2,87.2 1660.7,87.2 1662.3,87.2 1663.9,87.2 1665.4,87.2 1667.0,87.2 1668.5,87.2 1670.1,87.2 1671.7,87.2 1673.2,87.2 1674.8,87.2 1676.3,87.2 1677.9,87.1 1679.5,87.1 1681.0,87.1 1682.6,87.1 1684.1,87.1 1685.7,87.1 1687.3,87.1 1688.8,87.0 1690.4,87.0 1691.9,87.0 1693.5,87.0 1695.1,87.0 1696.6,86.9 1698.2,86.9 1699.7,86.9 1701.3,86.9 1702.9,86.9 1704.4,86.8 1706.0,86.8 1707.5,86.8 1709.1,86.8 1710.7,86.7 1712.2,86.7 1713.8,86.7 1715.3,86.7 1716.9,86.6 1718.5,86.6 1720.0,86.6 1721.6,86.6 1723.1,86.5 1724.7,86.5 1726.3,86.5 1727.8,86.5 1729.4,86.4 1730.9,86.4 1732.5,86.4 1734.1,86.4 1735.6,86.3 1737.2,86.3 1738.7,86.3 1740.3,86.3 1741.9,86.2 1743.4,86.2 1745.0,86.2 1746.5,86.2 1748.1,86.1 1749.7,86.1 1751.2,86.1 1752.8,86.1 1754.3,86.0 1755.9,86.0 1757.5,86.0 1759.0,86.0 1760.6,85.9 1762.1,85.9 1763.7,85.9 1765.2,85.8 1766.8,85.8 1768.4,85.8 1769.9,85.7 1771.5,85.7 1773.0,85.7 1774.6,85.6 1776.2,85.6 1777.7,85.6 1779.3,85.5 1780.8,85.5 1782.4,85.5 1784.0,85.4 1785.5,85.4 1787.1,85.4 1788.6,85.3 1790.2,85.3 1791.8,85.3 1793.3,85.3 1794.9,85.2 1796.4,85.2 1798.0,85.2 1799.6,85.2 1801.1,85.1 1802.7,85.1 1804.2,85.1 1805.8,85.1 1807.4,85.1 1808.9,85.1 1810.5,85.0 1812.0,85.0 1813.6,85.0 1815.2,85.0 1816.7,85.0 1818.3,85.0 1819.8,85.0 1821.4,85.0 1823.0,85.0 1824.5,85.0 1826.1,85.0 1827.6,85.0 1829.2,85.0" fill="none" stroke="#00bfbf" stroke-width="7.2" stroke-linejoin="round" stroke-dasharray="27 11.2" marker-start="url(#mc)" marker-mid="url(#mc)" marker-end="url(#mc)"/>
</g>
<rect x="193.1" y="26.0" width="1713.9" height="1278.0" fill="none" stroke="#000" stroke-width="3.8"/>
<path d="M271.00,1304.05 V1320.85 M193.05,1170.30 H176.25 M505.67,1304.05 V1320.85 M193.05,994.82 H176.25 M740.33,1304.05 V1320.85 M193.05,819.34 H176.25 M975.00,1304.05 V1320.85 M193.05,643.86 H176.25 M1209.67,1304.05 V1320.85 M193.05,468.38 H176.25 M1444.33,1304.05 V1320.85 M193.05,292.90 H176.25 M1679.00,1304.05 V1320.85 M193.05,117.42 H176.25" stroke="#000" stroke-width="3.8" fill="none"/>
<text x="271.0" y="1373.7" font-size="48" text-anchor="middle">0</text>
<text x="160.5" y="1187.5" font-size="48" text-anchor="end">0.0</text>
<text x="505.7" y="1373.7" font-size="48" text-anchor="middle">50</text>
<text x="160.5" y="1012.0" font-size="48" text-anchor="end">0.1</text>
<text x="740.3" y="1373.7" font-size="48" text-anchor="middle">100</text>
<text x="160.5" y="836.5" font-size="48" text-anchor="end">0.2</text>
<text x="975.0" y="1373.7" font-size="48" text-anchor="middle">150</text>
<text x="160.5" y="661.1" font-size="48" text-anchor="end">0.3</text>
<text x="1209.7" y="1373.7" font-size="48" text-anchor="middle">200</text>
<text x="160.5" y="485.6" font-size="48" text-anchor="end">0.4</text>
<text x="1444.3" y="1373.7" font-size="48" text-anchor="middle">250</text>
<text x="160.5" y="310.1" font-size="48" text-anchor="end">0.5</text>
<text x="1679.0" y="1373.7" font-size="48" text-anchor="middle">300</text>
<text x="160.5" y="134.6" font-size="48" text-anchor="end">0.6</text>
<text x="1050" y="1440" font-size="48" text-anchor="middle">Epoch</text>
<text transform="translate(54 665) rotate(-90)" x="0" y="0" font-size="48" text-anchor="middle">mAP@0.5:0.95</text>
<rect x="1014.1" y="913.9" width="868.9" height="366.2" rx="3" ry="3" fill="#fff" fill-opacity="0.8" stroke="#d6d6d6" stroke-width="3.84"/>
<path d="M1032.7,952.1 H1129.7" stroke="#0000ff" stroke-width="7.2" fill="none" stroke-dasharray="27 11.2"/>
<path transform="translate(1081.2 952.1)" d="M0.00,-7.20 L-1.62,-2.22 L-6.85,-2.22 L-2.62,0.85 L-4.23,5.82 L-0.00,2.75 L4.23,5.82 L2.62,0.85 L6.85,-2.22 L1.62,-2.22Z" fill="#0000ff" stroke="#0000ff" stroke-width="4.8" stroke-linejoin="bevel"/>
<text x="1168.3" y="969.3" font-size="48">YOLOv5s</text>
<path d="M1032.7,1022.5 H1129.7" stroke="#008000" stroke-width="7.2" fill="none" stroke-dasharray="27 11.2"/>
<path transform="translate(1081.2 1022.5)" d="M-7.20,-7.20 H7.20 V7.20 H-7.20 Z" fill="#008000" stroke="#008000" stroke-width="4.8" stroke-linejoin="miter"/>
<text x="1168.3" y="1039.7" font-size="48">YOLOv5s + BiFPN</text>
<path d="M1032.7,1092.9 H1129.7" stroke="#ff0000" stroke-width="7.2" fill="none" stroke-linecap="square"/>
<circle cx="1081.2" cy="1092.9" r="9.60" fill="#ff0000"/>
<text x="1168.3" y="1110.1" font-size="48">YOLOv5s + BiFPN + SimAM</text>
<path d="M1032.7,1163.3 H1129.7" stroke="#bf00bf" stroke-width="7.2" fill="none" stroke-dasharray="27 11.2"/>
<path transform="translate(1081.2 1163.3)" d="M0.00,-7.20 L-6.24,-3.60 L-6.24,3.60 L-0.00,7.20 L6.24,3.60 L6.24,-3.60Z" fill="#bf00bf" stroke="#bf00bf" stroke-width="4.8" stroke-linejoin="miter"/>
<text x="1168.3" y="1180.5" font-size="48">YOLOv5s + Swin-Transformer</text>
<path d="M1032.7,1233.7 H1129.7" stroke="#00bfbf" stroke-width="7.2" fill="none" stroke-dasharray="27 11.2"/>
<path transform="translate(1081.2 1233.7)" d="M0.00,-7.20 L-6.85,-2.22 L-4.23,5.82 L4.23,5.82 L6.85,-2.22Z" fill="#00bfbf" stroke="#00bfbf" stroke-width="4.8" stroke-linejoin="miter"/>
<text x="1168.3" y="1250.9" font-size="48">UT-YOLO (OURS)</text>
</svg></body></html>
